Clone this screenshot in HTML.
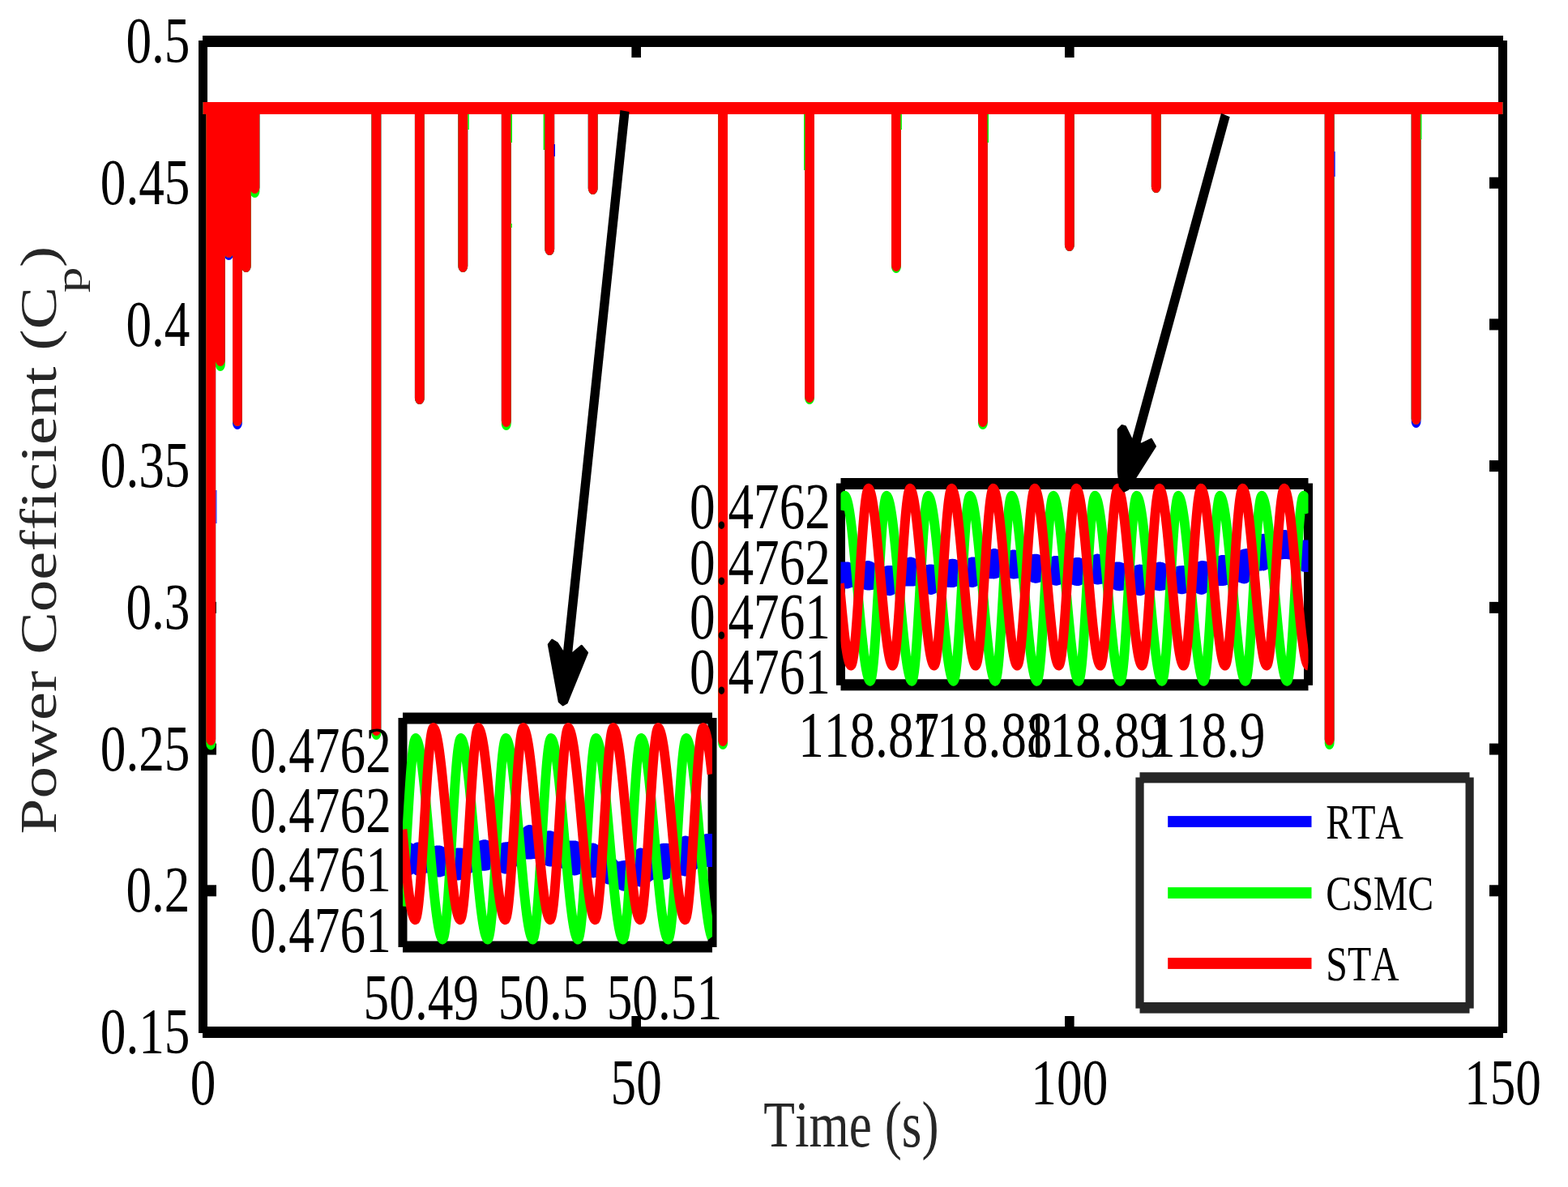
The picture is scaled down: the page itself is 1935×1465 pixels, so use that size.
<!DOCTYPE html>
<html><head><meta charset="utf-8"><title>Power Coefficient plot</title><style>html,body{margin:0;padding:0;background:#fff;width:1935px;height:1465px;overflow:hidden}</style></head><body>
<svg width="1935" height="1465" viewBox="0 0 1935 1465" style="display:block;font-kerning:none">
<rect width="1935" height="1465" fill="#fff"/>
<rect x="250.00" y="44.00" width="1605.00" height="14.00" fill="#000"/>
<rect x="250.00" y="1267.00" width="1605.00" height="14.00" fill="#000"/>
<rect x="245.00" y="50.00" width="11.00" height="1225.00" fill="#000"/>
<rect x="1849.00" y="50.00" width="11.00" height="1225.00" fill="#000"/>
<rect x="256.00" y="218.71" width="11.00" height="14.00" fill="#000"/>
<rect x="1838.00" y="218.71" width="11.00" height="14.00" fill="#000"/>
<rect x="256.00" y="393.43" width="11.00" height="14.00" fill="#000"/>
<rect x="1838.00" y="393.43" width="11.00" height="14.00" fill="#000"/>
<rect x="1838.00" y="568.14" width="11.00" height="14.00" fill="#000"/>
<rect x="256.00" y="742.86" width="11.00" height="14.00" fill="#000"/>
<rect x="1838.00" y="742.86" width="11.00" height="14.00" fill="#000"/>
<rect x="256.00" y="917.57" width="11.00" height="14.00" fill="#000"/>
<rect x="1838.00" y="917.57" width="11.00" height="14.00" fill="#000"/>
<rect x="256.00" y="1092.29" width="11.00" height="14.00" fill="#000"/>
<rect x="1838.00" y="1092.29" width="11.00" height="14.00" fill="#000"/>
<rect x="779.37" y="58.00" width="11.60" height="13.00" fill="#000"/>
<rect x="779.37" y="1254.00" width="11.60" height="13.00" fill="#000"/>
<rect x="1314.03" y="58.00" width="11.60" height="13.00" fill="#000"/>
<rect x="1314.03" y="1254.00" width="11.60" height="13.00" fill="#000"/>
<clipPath id="cmain" clipPathUnits="userSpaceOnUse"><rect x="250" y="31.50" width="1605" height="976.38"/></clipPath>
<g transform="scale(1 1.2700)" fill="none" stroke-linejoin="round" stroke-linecap="butt" stroke-width="11.80" clip-path="url(#cmain)">
<polyline stroke="#0000ff" points="250.50,105.12 260.23,105.12 260.23,718.51 260.23,105.12 271.89,105.12 271.89,350.01 271.89,105.12 282.26,105.12 282.26,246.86 282.26,105.12 292.95,105.12 292.95,411.42 292.95,105.12 303.75,105.12 303.75,258.67 303.75,105.12 314.45,105.12 314.45,182.29 314.45,105.12 464.37,105.12 464.37,709.06 464.37,105.12 517.83,105.12 517.83,387.01 517.83,105.12 571.30,105.12 571.30,258.67 571.30,105.12 624.77,105.12 624.77,409.06 624.77,105.12 678.23,105.12 678.23,242.13 678.23,105.12 731.70,105.12 731.70,183.08 731.70,105.12 892.10,105.12 892.10,719.30 892.10,105.12 999.03,105.12 999.03,385.44 999.03,105.12 1105.97,105.12 1105.97,257.88 1105.97,105.12 1212.90,105.12 1212.90,409.06 1212.90,105.12 1319.83,105.12 1319.83,238.19 1319.83,105.12 1426.77,105.12 1426.77,181.50 1426.77,105.12 1640.63,105.12 1640.63,718.51 1640.63,105.12 1747.57,105.12 1747.57,409.85 1747.57,105.12 1854.50,105.12"/>
<polyline stroke="#00ff00" points="250.50,105.12 260.23,105.12 260.23,722.84 260.23,105.12 271.89,105.12 271.89,354.73 271.89,105.12 282.26,105.12 282.26,244.49 282.26,105.12 292.95,105.12 292.95,408.27 292.95,105.12 303.75,105.12 303.75,258.67 303.75,105.12 314.45,105.12 314.45,186.23 314.45,105.12 464.37,105.12 464.37,713.00 464.37,105.12 517.83,105.12 517.83,387.01 517.83,105.12 571.30,105.12 571.30,258.67 571.30,105.12 624.77,105.12 624.77,412.21 624.77,105.12 678.23,105.12 678.23,242.13 678.23,105.12 731.70,105.12 731.70,183.08 731.70,105.12 892.10,105.12 892.10,722.45 892.10,105.12 999.03,105.12 999.03,387.01 999.03,105.12 1105.97,105.12 1105.97,259.45 1105.97,105.12 1212.90,105.12 1212.90,411.42 1212.90,105.12 1319.83,105.12 1319.83,238.19 1319.83,105.12 1426.77,105.12 1426.77,181.50 1426.77,105.12 1640.63,105.12 1640.63,722.45 1640.63,105.12 1747.57,105.12 1747.57,406.70 1747.57,105.12 1854.50,105.12"/>
<polyline stroke="#ff0000" points="250.50,105.12 260.23,105.12 260.23,718.51 260.23,105.12 271.89,105.12 271.89,350.01 271.89,105.12 282.26,105.12 282.26,244.49 282.26,105.12 292.95,105.12 292.95,408.27 292.95,105.12 303.75,105.12 303.75,258.67 303.75,105.12 314.45,105.12 314.45,182.29 314.45,105.12 464.37,105.12 464.37,709.06 464.37,105.12 517.83,105.12 517.83,387.01 517.83,105.12 571.30,105.12 571.30,258.67 571.30,105.12 624.77,105.12 624.77,409.06 624.77,105.12 678.23,105.12 678.23,242.13 678.23,105.12 731.70,105.12 731.70,183.08 731.70,105.12 892.10,105.12 892.10,719.30 892.10,105.12 999.03,105.12 999.03,385.44 999.03,105.12 1105.97,105.12 1105.97,257.88 1105.97,105.12 1212.90,105.12 1212.90,409.06 1212.90,105.12 1319.83,105.12 1319.83,238.19 1319.83,105.12 1426.77,105.12 1426.77,181.50 1426.77,105.12 1640.63,105.12 1640.63,718.51 1640.63,105.12 1747.57,105.12 1747.57,406.70 1747.57,105.12 1854.50,105.12"/>
</g>
<rect x="577.30" y="141.00" width="1.50" height="19.00" fill="#00ff00"/>
<rect x="630.60" y="141.00" width="1.40" height="35.00" fill="#00ff00"/>
<rect x="630.60" y="276.00" width="1.20" height="5.00" fill="#00ff00"/>
<rect x="670.60" y="141.00" width="1.40" height="44.00" fill="#00ff00"/>
<rect x="683.60" y="178.00" width="1.40" height="15.00" fill="#0000ff"/>
<rect x="992.00" y="141.00" width="1.40" height="69.00" fill="#00ff00"/>
<rect x="1111.40" y="141.00" width="1.50" height="19.00" fill="#00ff00"/>
<rect x="1218.60" y="141.00" width="1.40" height="35.00" fill="#00ff00"/>
<rect x="1646.40" y="187.00" width="1.20" height="31.00" fill="#0000ff"/>
<rect x="1752.90" y="141.00" width="1.50" height="31.00" fill="#00ff00"/>
<rect x="266.40" y="605.00" width="1.00" height="41.00" fill="#0000ff"/>
<rect x="491.50" y="879.50" width="393.00" height="296.00" fill="#fff"/>
<clipPath id="ci1" clipPathUnits="userSpaceOnUse"><rect x="497.00" y="690.16" width="382.00" height="237.80"/></clipPath>
<rect x="497.00" y="879.50" width="382.00" height="14.00" fill="#000"/>
<rect x="497.00" y="1161.50" width="382.00" height="14.00" fill="#000"/>
<rect x="491.50" y="886.00" width="11.00" height="283.00" fill="#000"/>
<rect x="873.50" y="886.00" width="11.00" height="283.00" fill="#000"/>
<g transform="scale(1 1.2700)" fill="none" stroke-linejoin="round" stroke-linecap="butt" stroke-width="11.80" clip-path="url(#ci1)">
<polyline stroke="#0000ff" points="487.00,824.33 487.75,844.97 488.50,824.33 489.25,844.97 490.00,824.33 490.75,844.97 491.50,824.33 492.25,844.97 493.00,824.33 493.75,844.97 494.50,824.33 495.25,844.97 496.00,824.33 496.75,844.97 497.50,824.33 498.25,844.97 499.00,824.33 499.75,844.97 500.50,824.33 501.25,844.97 502.00,824.33 502.75,844.97 503.50,824.33 504.25,844.97 505.00,824.33 505.75,844.79 506.50,824.97 507.25,843.64 508.00,826.39 508.75,842.28 509.50,827.40 510.25,841.84 511.00,827.17 511.75,842.68 512.50,825.90 513.25,844.11 514.00,824.63 514.75,844.95 515.50,824.35 516.25,844.87 517.00,824.61 517.75,844.62 518.50,825.08 519.25,844.25 520.00,825.72 520.75,843.80 521.50,826.47 522.25,843.34 523.00,827.23 523.75,842.93 524.50,827.95 525.25,842.65 526.00,828.54 526.75,842.54 527.50,828.95 528.25,842.63 529.00,829.17 529.75,842.93 530.50,829.18 531.25,843.40 532.00,829.02 532.75,844.01 533.50,828.72 534.25,844.68 535.00,828.36 535.75,845.34 536.50,827.99 537.25,845.92 538.00,827.69 538.75,846.33 539.50,827.51 540.25,846.53 541.00,827.47 541.75,846.53 542.50,827.60 543.25,846.39 544.00,827.98 544.75,846.10 545.50,828.58 546.25,845.73 547.00,829.32 547.75,845.34 548.50,830.09 549.25,845.01 550.00,830.81 550.75,844.82 551.50,831.38 552.25,844.83 553.00,831.76 553.75,845.07 554.50,831.92 555.25,845.54 556.00,831.84 556.75,846.19 557.50,831.58 558.25,846.97 559.00,831.19 559.75,847.79 560.50,830.75 561.25,848.56 562.00,830.33 562.75,849.17 563.50,830.02 564.25,849.57 565.00,829.85 565.75,849.68 566.50,829.86 567.25,849.49 568.00,829.93 568.75,849.07 569.50,830.01 570.25,848.45 571.00,830.11 571.75,847.68 572.50,830.19 573.25,846.79 574.00,830.24 574.75,845.83 575.50,830.23 576.25,844.86 577.00,830.13 577.75,843.91 578.50,829.91 579.25,843.04 580.00,829.55 580.75,842.26 581.50,829.07 582.25,841.61 583.00,828.44 583.75,841.10 584.50,827.70 585.25,840.72 586.00,826.87 586.75,840.47 587.50,825.97 588.25,840.33 589.00,825.07 589.75,840.28 590.50,824.19 591.25,840.27 592.00,823.39 592.75,840.30 593.50,822.73 594.25,840.33 595.00,822.23 595.75,840.34 596.50,821.95 597.25,840.33 598.00,821.88 598.75,840.30 599.50,822.03 600.25,840.15 601.00,822.40 601.75,839.88 602.50,822.96 603.25,839.53 604.00,823.64 604.75,839.16 605.50,824.37 606.25,838.83 607.00,825.06 607.75,838.61 608.50,825.66 609.25,838.55 610.00,826.09 610.75,838.68 611.50,826.33 612.25,839.02 613.00,826.36 613.75,839.54 614.50,826.21 615.25,840.20 616.00,825.92 616.75,840.95 617.50,825.53 618.25,841.71 619.00,825.13 619.75,842.40 620.50,824.76 621.25,842.94 622.00,824.48 622.75,843.29 623.50,824.34 624.25,843.40 625.00,824.27 625.75,843.20 626.50,824.12 627.25,842.63 628.00,823.91 628.75,841.74 629.50,823.62 630.25,840.61 631.00,823.25 631.75,839.30 632.50,822.76 633.25,837.89 634.00,822.12 634.75,836.46 635.50,821.32 636.25,835.07 637.00,820.34 637.75,833.78 638.50,819.17 639.25,832.64 640.00,817.85 640.75,831.67 641.50,816.39 642.25,830.89 643.00,814.84 643.75,830.28 644.50,813.28 645.25,829.83 646.00,811.77 646.75,829.51 647.50,810.39 648.25,829.30 649.00,809.21 649.75,829.17 650.50,808.30 651.25,829.12 652.00,807.73 652.75,829.12 653.50,807.55 654.25,829.15 655.00,807.75 655.75,829.09 656.50,808.26 657.25,828.96 658.00,809.02 658.75,828.81 659.50,809.95 660.25,828.69 661.00,810.94 661.75,828.67 662.50,811.90 663.25,828.81 664.00,812.75 664.75,829.16 665.50,813.43 666.25,829.73 667.00,813.89 667.75,830.50 668.50,814.13 669.25,831.45 670.00,814.17 670.75,832.51 671.50,814.05 672.25,833.58 673.00,813.85 673.75,834.58 674.50,813.61 675.25,835.40 676.00,813.40 676.75,835.97 677.50,813.26 678.25,836.22 679.00,813.25 679.75,836.20 680.50,813.52 681.25,836.15 682.00,814.05 682.75,836.08 683.50,814.79 684.25,836.02 685.00,815.69 685.75,835.98 686.50,816.70 687.25,836.01 688.00,817.76 688.75,836.13 689.50,818.80 690.25,836.38 691.00,819.77 691.75,836.78 692.50,820.64 693.25,837.34 694.00,821.36 694.75,838.05 695.50,821.93 696.25,838.90 697.00,822.34 697.75,839.84 698.50,822.61 699.25,840.85 700.00,822.75 700.75,841.86 701.50,822.81 702.25,842.82 703.00,822.80 703.75,843.66 704.50,822.78 705.25,844.33 706.00,822.75 706.75,844.78 707.50,822.74 708.25,844.96 709.00,822.76 709.75,844.91 710.50,822.99 711.25,844.67 712.00,823.48 712.75,844.29 713.50,824.16 714.25,843.84 715.00,824.94 715.75,843.40 716.50,825.72 717.25,843.05 718.00,826.40 718.75,842.87 719.50,826.90 720.25,842.92 721.00,827.18 721.75,843.21 722.50,827.21 723.25,843.72 724.00,827.02 724.75,844.41 725.50,826.67 726.25,845.18 727.00,826.23 727.75,845.95 728.50,825.80 729.25,846.60 730.00,825.44 730.75,847.06 731.50,825.23 732.25,847.25 733.00,825.29 733.75,847.07 734.50,826.05 735.25,846.79 736.00,827.39 736.75,846.50 737.50,829.08 738.25,846.34 739.00,830.87 739.75,846.45 740.50,832.52 741.25,846.95 742.00,833.85 742.75,847.86 743.50,834.78 744.25,849.11 745.00,835.31 745.75,850.54 746.50,835.54 747.25,851.91 748.00,835.62 748.75,852.96 749.50,835.69 750.25,853.47 751.00,835.82 751.75,853.45 752.50,836.16 753.25,853.29 754.00,837.09 754.75,853.04 755.50,838.42 756.25,852.83 757.00,839.88 757.75,852.85 758.50,841.22 759.25,853.23 760.00,842.24 760.75,854.05 761.50,842.84 762.25,855.25 763.00,843.02 763.75,856.68 764.50,842.91 765.25,858.11 766.00,842.66 766.75,859.26 767.50,842.44 768.25,859.92 769.00,842.36 769.75,860.08 770.50,842.10 771.25,859.85 772.00,841.90 772.75,859.17 773.50,841.72 774.25,858.19 775.00,841.47 775.75,857.09 776.50,841.04 777.25,856.04 778.00,840.34 778.75,855.18 779.50,839.33 780.25,854.60 781.00,838.00 781.75,854.34 782.50,836.43 783.25,854.38 784.00,834.74 784.75,854.65 785.50,833.08 786.25,855.04 787.00,831.64 787.75,855.46 788.50,830.57 789.25,855.83 790.00,829.99 790.75,855.93 791.50,830.09 792.25,855.63 793.00,830.26 793.75,855.11 794.50,830.48 795.25,854.41 796.00,830.74 796.75,853.59 797.50,830.99 798.25,852.70 799.00,831.19 799.75,851.79 800.50,831.30 801.25,850.94 802.00,831.28 802.75,850.18 803.50,831.12 804.25,849.55 805.00,830.80 805.75,849.08 806.50,830.31 807.25,848.77 808.00,829.69 808.75,848.61 809.50,828.97 810.25,848.58 811.00,828.19 811.75,848.65 812.50,827.41 813.25,848.77 814.00,826.69 814.75,848.91 815.50,826.09 816.25,849.02 817.00,825.66 817.75,849.08 818.50,825.44 819.25,849.07 820.00,825.40 820.75,849.05 821.50,825.37 822.25,848.77 823.00,825.43 823.75,848.25 824.50,825.54 825.25,847.56 826.00,825.67 826.75,846.76 827.50,825.75 828.25,845.96 829.00,825.71 829.75,845.22 830.50,825.52 831.25,844.61 832.00,825.13 832.75,844.18 833.50,824.54 834.25,843.96 835.00,823.75 835.75,843.94 836.50,822.82 837.25,844.08 838.00,821.80 838.75,844.36 839.50,820.77 840.25,844.70 841.00,819.81 841.75,845.05 842.50,819.01 843.25,845.36 844.00,818.43 844.75,845.58 845.50,818.12 846.25,845.59 847.00,818.30 847.75,845.18 848.50,818.60 849.25,844.53 850.00,818.96 850.75,843.69 851.50,819.37 852.25,842.71 853.00,819.76 853.75,841.67 854.50,820.10 855.25,840.62 856.00,820.34 856.75,839.64 857.50,820.45 858.25,838.76 859.00,820.38 859.75,838.04 860.50,820.15 861.25,837.49 862.00,819.74 862.75,837.11 863.50,819.19 864.25,836.90 865.00,818.55 865.75,836.80 866.50,817.88 867.25,836.79 868.00,817.23 868.75,836.82 869.50,816.67 870.25,836.84 871.00,816.27 871.75,836.81 872.50,816.08 873.25,836.70 874.00,816.14 874.75,836.62 875.50,816.14 876.25,836.62 877.00,816.14 877.75,836.62 878.50,816.14 879.25,836.62 880.00,816.14 880.75,836.62 881.50,816.14 882.25,836.62 883.00,816.14 883.75,836.62 884.50,816.14 885.25,836.62 886.00,816.14 886.75,836.62 887.50,816.14 888.25,836.62 889.00,816.14"/>
<polyline stroke="#00ff00" points="496.50,880.60 497.00,875.42 497.50,869.95 498.00,864.19 498.50,858.20 499.00,851.99 499.50,845.60 500.00,839.05 500.50,832.39 501.00,825.64 501.50,818.84 502.00,812.02 502.50,805.22 503.00,798.46 503.50,791.79 504.00,785.24 504.50,778.83 505.00,772.61 505.50,766.59 506.00,760.82 506.50,755.32 507.00,750.12 507.50,745.24 508.00,740.70 508.50,736.54 509.00,732.77 509.50,729.41 510.00,726.48 510.50,723.99 511.00,721.95 511.50,720.38 512.00,719.28 512.50,718.65 513.00,718.50 513.50,718.65 514.00,719.02 514.50,719.59 515.00,720.38 515.50,721.38 516.00,722.58 516.50,723.99 517.00,725.60 517.50,727.41 518.00,729.41 518.50,731.61 519.00,733.99 519.50,736.54 520.00,739.28 520.50,742.18 521.00,745.24 521.50,748.45 522.00,751.82 522.50,755.32 523.00,758.96 523.50,762.72 524.00,766.59 524.50,770.58 525.00,774.66 525.50,778.83 526.00,783.08 526.50,787.41 527.00,791.79 527.50,796.23 528.00,800.71 528.50,805.22 529.00,809.75 529.50,814.29 530.00,818.84 530.50,823.38 531.00,827.90 531.50,832.39 532.00,836.84 532.50,841.25 533.00,845.60 533.50,849.88 534.00,854.08 534.50,858.20 535.00,862.22 535.50,866.14 536.00,869.95 536.50,873.63 537.00,877.18 537.50,880.60 538.00,883.87 538.50,887.00 539.00,889.96 539.50,892.75 540.00,895.38 540.50,897.82 541.00,900.09 541.50,902.17 542.00,904.05 542.50,905.74 543.00,907.22 543.50,908.51 544.00,909.58 544.50,910.45 545.00,911.11 545.50,911.55 546.00,911.78 546.50,911.77 547.00,911.33 547.50,910.41 548.00,909.02 548.50,907.15 549.00,904.83 549.50,902.07 550.00,898.87 550.50,895.25 551.00,891.24 551.50,886.84 552.00,882.09 552.50,877.01 553.00,871.62 553.50,865.95 554.00,860.02 554.50,853.87 555.00,847.53 555.50,841.03 556.00,834.40 556.50,827.67 557.00,820.88 557.50,814.07 558.00,807.25 558.50,800.48 559.00,793.78 559.50,787.19 560.00,780.73 560.50,774.45 561.00,768.37 561.50,762.52 562.00,756.94 562.50,751.64 563.00,746.66 563.50,742.03 564.00,737.75 564.50,733.86 565.00,730.38 565.50,727.32 566.00,724.69 566.50,722.52 567.00,720.80 567.50,719.56 568.00,718.79 568.50,718.50 569.00,718.59 569.50,718.88 570.00,719.40 570.50,720.12 571.00,721.06 571.50,722.20 572.00,723.55 572.50,725.10 573.00,726.85 573.50,728.79 574.00,730.93 574.50,733.25 575.00,735.76 575.50,738.44 576.00,741.29 576.50,744.30 577.00,747.47 577.50,750.79 578.00,754.25 578.50,757.85 579.00,761.57 579.50,765.42 580.00,769.37 580.50,773.42 581.00,777.57 581.50,781.80 582.00,786.10 582.50,790.47 583.00,794.89 583.50,799.36 584.00,803.86 584.50,808.39 585.00,812.93 585.50,817.48 586.00,822.02 586.50,826.54 587.00,831.05 587.50,835.51 588.00,839.93 588.50,844.30 589.00,848.60 589.50,852.83 590.00,856.97 590.50,861.03 591.00,864.98 591.50,868.82 592.00,872.54 592.50,876.13 593.00,879.59 593.50,882.91 594.00,886.08 594.50,889.09 595.00,891.93 595.50,894.61 596.00,897.11 596.50,899.43 597.00,901.56 597.50,903.50 598.00,905.25 598.50,906.80 599.00,908.14 599.50,909.28 600.00,910.21 600.50,910.93 601.00,911.44 601.50,911.73 602.00,911.81 602.50,911.51 603.00,910.74 603.50,909.48 604.00,907.76 604.50,905.58 605.00,902.94 605.50,899.87 606.00,896.38 606.50,892.48 607.00,888.20 607.50,883.55 608.00,878.57 608.50,873.27 609.00,867.68 609.50,861.82 610.00,855.74 610.50,849.45 611.00,843.00 611.50,836.40 612.00,829.70 612.50,822.92 613.00,816.11 613.50,809.30 614.00,802.51 614.50,795.78 615.00,789.15 615.50,782.65 616.00,776.32 616.50,770.17 617.00,764.25 617.50,758.59 618.00,753.20 618.50,748.12 619.00,743.38 619.50,738.99 620.00,734.99 620.50,731.38 621.00,728.19 621.50,725.43 622.00,723.12 622.50,721.27 623.00,719.88 623.50,718.97 624.00,718.54 624.50,718.54 625.00,718.77 625.50,719.22 626.00,719.88 626.50,720.75 627.00,721.83 627.50,723.12 628.00,724.61 628.50,726.30 629.00,728.19 629.50,730.27 630.00,732.54 630.50,734.99 631.00,737.62 631.50,740.42 632.00,743.38 632.50,746.50 633.00,749.78 633.50,753.20 634.00,756.76 634.50,760.44 635.00,764.25 635.50,768.17 636.00,772.20 636.50,776.32 637.00,780.52 637.50,784.80 638.00,789.15 638.50,793.56 639.00,798.01 639.50,802.51 640.00,807.03 640.50,811.57 641.00,816.11 641.50,820.66 642.00,825.19 642.50,829.70 643.00,834.18 643.50,838.61 644.00,843.00 644.50,847.32 645.00,851.57 645.50,855.74 646.00,859.82 646.50,863.80 647.00,867.68 647.50,871.43 648.00,875.07 648.50,878.57 649.00,881.93 649.50,885.14 650.00,888.20 650.50,891.10 651.00,893.82 651.50,896.38 652.00,898.75 652.50,900.94 653.00,902.94 653.50,904.75 654.00,906.35 654.50,907.76 655.00,908.96 655.50,909.95 656.00,910.74 656.50,911.31 657.00,911.67 657.50,911.81 658.00,911.65 658.50,911.02 659.00,909.91 659.50,908.33 660.00,906.28 660.50,903.78 661.00,900.84 661.50,897.47 662.00,893.69 662.50,889.52 663.00,884.98 663.50,880.10 664.00,874.89 664.50,869.38 665.00,863.61 665.50,857.59 666.00,851.36 666.50,844.95 667.00,838.39 667.50,831.72 668.00,824.96 668.50,818.16 669.00,811.34 669.50,804.54 670.00,797.79 670.50,791.13 671.00,784.59 671.50,778.20 672.00,771.99 672.50,766.00 673.00,760.26 673.50,754.78 674.00,749.61 674.50,744.77 675.00,740.27 675.50,736.15 676.00,732.42 676.50,729.10 677.00,726.21 677.50,723.77 678.00,721.77 678.50,720.25 679.00,719.19 679.50,718.62 680.00,718.51 680.50,718.68 681.00,719.06 681.50,719.66 682.00,720.47 682.50,721.49 683.00,722.71 683.50,724.14 684.00,725.77 684.50,727.60 685.00,729.63 685.50,731.84 686.00,734.23 686.50,736.81 687.00,739.56 687.50,742.47 688.00,745.55 688.50,748.78 689.00,752.16 689.50,755.68 690.00,759.33 690.50,763.10 691.00,766.99 691.50,770.98 692.00,775.07 692.50,779.25 693.00,783.51 693.50,787.84 694.00,792.23 694.50,796.67 695.00,801.16 695.50,805.67 696.00,810.20 696.50,814.75 697.00,819.29 697.50,823.83 698.00,828.35 698.50,832.84 699.00,837.29 699.50,841.69 700.00,846.03 700.50,850.30 701.00,854.50 701.50,858.61 702.00,862.62 702.50,866.53 703.00,870.32 703.50,873.99 704.00,877.53 704.50,880.94 705.00,884.19 705.50,887.30 706.00,890.24 706.50,893.02 707.00,895.63 707.50,898.06 708.00,900.31 708.50,902.36 709.00,904.23 709.50,905.89 710.00,907.36 710.50,908.62 711.00,909.68 711.50,910.52 712.00,911.16 712.50,911.58 713.00,911.79 713.50,911.75 714.00,911.26 714.50,910.29 715.00,908.85 715.50,906.94 716.00,904.58 716.50,901.77 717.00,898.52 717.50,894.87 718.00,890.81 718.50,886.38 719.00,881.60 719.50,876.48 720.00,871.06 720.50,865.36 721.00,859.42 721.50,853.25 722.00,846.89 722.50,840.37 723.00,833.73 723.50,827.00 724.00,820.20 724.50,813.38 725.00,806.57 725.50,799.81 726.00,793.12 726.50,786.54 727.00,780.10 727.50,773.83 728.00,767.78 728.50,761.95 729.00,756.40 729.50,751.13 730.00,746.19 730.50,741.58 731.00,737.35 731.50,733.50 732.00,730.05 732.50,727.03 733.00,724.45 733.50,722.32 734.00,720.66 734.50,719.46 735.00,718.74 735.50,718.50 736.00,718.61 736.50,718.93 737.00,719.46 737.50,720.20 738.00,721.16 738.50,722.32 739.00,723.69 739.50,725.26 740.00,727.03 740.50,729.00 741.00,731.15 741.50,733.50 742.00,736.02 742.50,738.72 743.00,741.58 743.50,744.61 744.00,747.80 744.50,751.13 745.00,754.61 745.50,758.22 746.00,761.95 746.50,765.81 747.00,769.77 747.50,773.83 748.00,777.99 748.50,782.23 749.00,786.54 749.50,790.91 750.00,795.34 750.50,799.81 751.00,804.31 751.50,808.84 752.00,813.38 752.50,817.93 753.00,822.47 753.50,827.00 754.00,831.49 754.50,835.96 755.00,840.37 755.50,844.73 756.00,849.03 756.50,853.25 757.00,857.38 757.50,861.42 758.00,865.36 758.50,869.19 759.00,872.90 759.50,876.48 760.00,879.93 760.50,883.23 761.00,886.38 761.50,889.38 762.00,892.21 762.50,894.87 763.00,897.35 763.50,899.65 764.00,901.77 764.50,903.69 765.00,905.41 765.50,906.94 766.00,908.27 766.50,909.38 767.00,910.29 767.50,910.99 768.00,911.48 768.50,911.75 769.00,911.80 769.50,911.46 770.00,910.63 770.50,909.33 771.00,907.56 771.50,905.33 772.00,902.65 772.50,899.54 773.00,896.01 773.50,892.07 774.00,887.75 774.50,883.07 775.00,878.05 775.50,872.72 776.00,867.10 776.50,861.23 777.00,855.12 777.50,848.81 778.00,842.34 778.50,835.73 779.00,829.02 779.50,822.24 780.00,815.43 780.50,808.61 781.00,801.83 781.50,795.11 782.00,788.50 782.50,782.01 783.00,775.69 783.50,769.57 784.00,763.67 784.50,758.03 785.00,752.68 785.50,747.63 786.00,742.93 786.50,738.58 787.00,734.61 787.50,731.04 788.00,727.89 788.50,725.18 789.00,722.91 789.50,721.11 790.00,719.77 790.50,718.90 791.00,718.52 791.50,718.55 792.00,718.81 792.50,719.28 793.00,719.96 793.50,720.85 794.00,721.95 794.50,723.26 795.00,724.77 795.50,726.48 796.00,728.39 796.50,730.49 797.00,732.77 797.50,735.24 798.00,737.89 798.50,740.70 799.00,743.69 799.50,746.83 800.00,750.12 800.50,753.55 801.00,757.12 801.50,760.82 802.00,764.64 802.50,768.57 803.00,772.61 803.50,776.73 804.00,780.95 804.50,785.24 805.00,789.59 805.50,794.00 806.00,798.46 806.50,802.96 807.00,807.48 807.50,812.02 808.00,816.57 808.50,821.11 809.00,825.64 809.50,830.15 810.00,834.62 810.50,839.05 811.00,843.43 811.50,847.75 812.00,851.99 812.50,856.15 813.00,860.22 813.50,864.19 814.00,868.06 814.50,871.80 815.00,875.42 815.50,878.91 816.00,882.26 816.50,885.45 817.00,888.50 817.50,891.38 818.00,894.09 818.50,896.62 819.00,898.98 819.50,901.15 820.00,903.13 820.50,904.92 821.00,906.50 821.50,907.89 822.00,909.07 822.50,910.04 823.00,910.80 823.50,911.35 824.00,911.69 824.50,911.82 825.00,911.61 825.50,910.93 826.00,909.77 826.50,908.14 827.00,906.05 827.50,903.50 828.00,900.52 828.50,897.11 829.00,893.29 829.50,889.09 830.00,884.51 830.50,879.59 831.00,874.35 831.50,868.82 832.00,863.01 832.50,856.97 833.00,850.72 833.50,844.30 834.00,837.73 834.50,831.05 835.00,824.28 835.50,817.48 836.00,810.66 836.50,803.86 837.00,797.12 837.50,790.47 838.00,783.94 838.50,777.57 839.00,771.38 839.50,765.42 840.00,759.70 840.50,754.25 841.00,749.11 841.50,744.30 842.00,739.84 842.50,735.76 843.00,732.07 843.50,728.79 844.00,725.95 844.50,723.55 845.00,721.60 845.50,720.12 846.00,719.11 846.50,718.59 847.00,718.52 847.50,718.71 848.00,719.11 848.50,719.73 849.00,720.56 849.50,721.60 850.00,722.85 850.50,724.30 851.00,725.95 851.50,727.80 852.00,729.84 852.50,732.07 853.00,734.48 853.50,737.08 854.00,739.84 854.50,742.77 855.00,745.87 855.50,749.11 856.00,752.51 856.50,756.04 857.00,759.70 857.50,763.48 858.00,767.38 858.50,771.38 859.00,775.49 859.50,779.67 860.00,783.94 860.50,788.28 861.00,792.67 861.50,797.12 862.00,801.61 862.50,806.12 863.00,810.66 863.50,815.20 864.00,819.75 864.50,824.28 865.00,828.80 865.50,833.28 866.00,837.73 866.50,842.12 867.00,846.46 867.50,850.72 868.00,854.91 868.50,859.01 869.00,863.01 869.50,866.91 870.00,870.69 870.50,874.35 871.00,877.88 871.50,881.27 872.00,884.51 872.50,887.60 873.00,890.53 873.50,893.29 874.00,895.88 874.50,898.29 875.00,900.52 875.50,902.56 876.00,904.40 876.50,906.05 877.00,907.50 877.50,908.74 878.00,909.77 878.50,910.60"/>
<polyline stroke="#ff0000" points="496.50,806.17 497.00,810.50 497.50,814.81 498.00,819.10 498.50,823.34 499.00,827.52 499.50,831.65 500.00,835.71 500.50,839.70 501.00,843.59 501.50,847.39 502.00,851.08 502.50,854.66 503.00,858.13 503.50,861.46 504.00,864.66 504.50,867.71 505.00,870.62 505.50,873.37 506.00,875.95 506.50,878.37 507.00,880.62 507.50,882.69 508.00,884.57 508.50,886.27 509.00,887.78 509.50,889.09 510.00,890.21 510.50,891.12 511.00,891.84 511.50,892.35 512.00,892.66 512.50,892.76 513.00,892.53 513.50,891.84 514.00,890.69 514.50,889.09 515.00,887.05 515.50,884.57 516.00,881.68 516.50,878.37 517.00,874.68 517.50,870.62 518.00,866.20 518.50,861.46 519.00,856.41 519.50,851.08 520.00,845.50 520.50,839.70 521.00,833.69 521.50,827.52 522.00,821.22 522.50,814.81 523.00,808.34 523.50,801.82 524.00,795.29 524.50,788.79 525.00,782.35 525.50,776.01 526.00,769.78 526.50,763.71 527.00,757.82 527.50,752.14 528.00,746.71 528.50,741.55 529.00,736.68 529.50,732.13 530.00,727.93 530.50,724.08 531.00,720.62 531.50,717.56 532.00,714.91 532.50,712.70 533.00,710.92 533.50,709.59 534.00,708.71 534.50,708.30 535.00,708.30 535.50,708.52 536.00,708.96 536.50,709.59 537.00,710.43 537.50,711.46 538.00,712.70 538.50,714.13 539.00,715.75 539.50,717.56 540.00,719.56 540.50,721.73 541.00,724.08 541.50,726.60 542.00,729.29 542.50,732.13 543.00,735.13 543.50,738.27 544.00,741.55 544.50,744.96 545.00,748.49 545.50,752.14 546.00,755.90 546.50,759.76 547.00,763.71 547.50,767.74 548.00,771.84 548.50,776.01 549.00,780.23 549.50,784.49 550.00,788.79 550.50,793.12 551.00,797.47 551.50,801.82 552.00,806.17 552.50,810.50 553.00,814.81 553.50,819.10 554.00,823.34 554.50,827.52 555.00,831.65 555.50,835.71 556.00,839.70 556.50,843.59 557.00,847.39 557.50,851.08 558.00,854.66 558.50,858.13 559.00,861.46 559.50,864.66 560.00,867.71 560.50,870.62 561.00,873.37 561.50,875.95 562.00,878.37 562.50,880.62 563.00,882.69 563.50,884.57 564.00,886.27 564.50,887.78 565.00,889.09 565.50,890.21 566.00,891.12 566.50,891.84 567.00,892.35 567.50,892.66 568.00,892.76 568.50,892.53 569.00,891.84 569.50,890.69 570.00,889.09 570.50,887.05 571.00,884.57 571.50,881.68 572.00,878.37 572.50,874.68 573.00,870.62 573.50,866.20 574.00,861.46 574.50,856.41 575.00,851.08 575.50,845.50 576.00,839.70 576.50,833.69 577.00,827.52 577.50,821.22 578.00,814.81 578.50,808.34 579.00,801.82 579.50,795.29 580.00,788.79 580.50,782.35 581.00,776.01 581.50,769.78 582.00,763.71 582.50,757.82 583.00,752.14 583.50,746.71 584.00,741.55 584.50,736.68 585.00,732.13 585.50,727.93 586.00,724.08 586.50,720.62 587.00,717.56 587.50,714.91 588.00,712.70 588.50,710.92 589.00,709.59 589.50,708.71 590.00,708.30 590.50,708.30 591.00,708.52 591.50,708.96 592.00,709.59 592.50,710.43 593.00,711.46 593.50,712.70 594.00,714.13 594.50,715.75 595.00,717.56 595.50,719.56 596.00,721.73 596.50,724.08 597.00,726.60 597.50,729.29 598.00,732.13 598.50,735.13 599.00,738.27 599.50,741.55 600.00,744.96 600.50,748.49 601.00,752.14 601.50,755.90 602.00,759.76 602.50,763.71 603.00,767.74 603.50,771.84 604.00,776.01 604.50,780.23 605.00,784.49 605.50,788.79 606.00,793.12 606.50,797.47 607.00,801.82 607.50,806.17 608.00,810.50 608.50,814.81 609.00,819.10 609.50,823.34 610.00,827.52 610.50,831.65 611.00,835.71 611.50,839.70 612.00,843.59 612.50,847.39 613.00,851.08 613.50,854.66 614.00,858.13 614.50,861.46 615.00,864.66 615.50,867.71 616.00,870.62 616.50,873.37 617.00,875.95 617.50,878.37 618.00,880.62 618.50,882.69 619.00,884.57 619.50,886.27 620.00,887.78 620.50,889.09 621.00,890.21 621.50,891.12 622.00,891.84 622.50,892.35 623.00,892.66 623.50,892.76 624.00,892.53 624.50,891.84 625.00,890.69 625.50,889.09 626.00,887.05 626.50,884.57 627.00,881.68 627.50,878.37 628.00,874.68 628.50,870.62 629.00,866.20 629.50,861.46 630.00,856.41 630.50,851.08 631.00,845.50 631.50,839.70 632.00,833.69 632.50,827.52 633.00,821.22 633.50,814.81 634.00,808.34 634.50,801.82 635.00,795.29 635.50,788.79 636.00,782.35 636.50,776.01 637.00,769.78 637.50,763.71 638.00,757.82 638.50,752.14 639.00,746.71 639.50,741.55 640.00,736.68 640.50,732.13 641.00,727.93 641.50,724.08 642.00,720.62 642.50,717.56 643.00,714.91 643.50,712.70 644.00,710.92 644.50,709.59 645.00,708.71 645.50,708.30 646.00,708.30 646.50,708.52 647.00,708.96 647.50,709.59 648.00,710.43 648.50,711.46 649.00,712.70 649.50,714.13 650.00,715.75 650.50,717.56 651.00,719.56 651.50,721.73 652.00,724.08 652.50,726.60 653.00,729.29 653.50,732.13 654.00,735.13 654.50,738.27 655.00,741.55 655.50,744.96 656.00,748.49 656.50,752.14 657.00,755.90 657.50,759.76 658.00,763.71 658.50,767.74 659.00,771.84 659.50,776.01 660.00,780.23 660.50,784.49 661.00,788.79 661.50,793.12 662.00,797.47 662.50,801.82 663.00,806.17 663.50,810.50 664.00,814.81 664.50,819.10 665.00,823.34 665.50,827.52 666.00,831.65 666.50,835.71 667.00,839.70 667.50,843.59 668.00,847.39 668.50,851.08 669.00,854.66 669.50,858.13 670.00,861.46 670.50,864.66 671.00,867.71 671.50,870.62 672.00,873.37 672.50,875.95 673.00,878.37 673.50,880.62 674.00,882.69 674.50,884.57 675.00,886.27 675.50,887.78 676.00,889.09 676.50,890.21 677.00,891.12 677.50,891.84 678.00,892.35 678.50,892.66 679.00,892.76 679.50,892.53 680.00,891.84 680.50,890.69 681.00,889.09 681.50,887.05 682.00,884.57 682.50,881.68 683.00,878.37 683.50,874.68 684.00,870.62 684.50,866.20 685.00,861.46 685.50,856.41 686.00,851.08 686.50,845.50 687.00,839.70 687.50,833.69 688.00,827.52 688.50,821.22 689.00,814.81 689.50,808.34 690.00,801.82 690.50,795.29 691.00,788.79 691.50,782.35 692.00,776.01 692.50,769.78 693.00,763.71 693.50,757.82 694.00,752.14 694.50,746.71 695.00,741.55 695.50,736.68 696.00,732.13 696.50,727.93 697.00,724.08 697.50,720.62 698.00,717.56 698.50,714.91 699.00,712.70 699.50,710.92 700.00,709.59 700.50,708.71 701.00,708.30 701.50,708.30 702.00,708.52 702.50,708.96 703.00,709.59 703.50,710.43 704.00,711.46 704.50,712.70 705.00,714.13 705.50,715.75 706.00,717.56 706.50,719.56 707.00,721.73 707.50,724.08 708.00,726.60 708.50,729.29 709.00,732.13 709.50,735.13 710.00,738.27 710.50,741.55 711.00,744.96 711.50,748.49 712.00,752.14 712.50,755.90 713.00,759.76 713.50,763.71 714.00,767.74 714.50,771.84 715.00,776.01 715.50,780.23 716.00,784.49 716.50,788.79 717.00,793.12 717.50,797.47 718.00,801.82 718.50,806.17 719.00,810.50 719.50,814.81 720.00,819.10 720.50,823.34 721.00,827.52 721.50,831.65 722.00,835.71 722.50,839.70 723.00,843.59 723.50,847.39 724.00,851.08 724.50,854.66 725.00,858.13 725.50,861.46 726.00,864.66 726.50,867.71 727.00,870.62 727.50,873.37 728.00,875.95 728.50,878.37 729.00,880.62 729.50,882.69 730.00,884.57 730.50,886.27 731.00,887.78 731.50,889.09 732.00,890.21 732.50,891.12 733.00,891.84 733.50,892.35 734.00,892.66 734.50,892.76 735.00,892.53 735.50,891.84 736.00,890.69 736.50,889.09 737.00,887.05 737.50,884.57 738.00,881.68 738.50,878.37 739.00,874.68 739.50,870.62 740.00,866.20 740.50,861.46 741.00,856.41 741.50,851.08 742.00,845.50 742.50,839.70 743.00,833.69 743.50,827.52 744.00,821.22 744.50,814.81 745.00,808.34 745.50,801.82 746.00,795.29 746.50,788.79 747.00,782.35 747.50,776.01 748.00,769.78 748.50,763.71 749.00,757.82 749.50,752.14 750.00,746.71 750.50,741.55 751.00,736.68 751.50,732.13 752.00,727.93 752.50,724.08 753.00,720.62 753.50,717.56 754.00,714.91 754.50,712.70 755.00,710.92 755.50,709.59 756.00,708.71 756.50,708.30 757.00,708.30 757.50,708.52 758.00,708.96 758.50,709.59 759.00,710.43 759.50,711.46 760.00,712.70 760.50,714.13 761.00,715.75 761.50,717.56 762.00,719.56 762.50,721.73 763.00,724.08 763.50,726.60 764.00,729.29 764.50,732.13 765.00,735.13 765.50,738.27 766.00,741.55 766.50,744.96 767.00,748.49 767.50,752.14 768.00,755.90 768.50,759.76 769.00,763.71 769.50,767.74 770.00,771.84 770.50,776.01 771.00,780.23 771.50,784.49 772.00,788.79 772.50,793.12 773.00,797.47 773.50,801.82 774.00,806.17 774.50,810.50 775.00,814.81 775.50,819.10 776.00,823.34 776.50,827.52 777.00,831.65 777.50,835.71 778.00,839.70 778.50,843.59 779.00,847.39 779.50,851.08 780.00,854.66 780.50,858.13 781.00,861.46 781.50,864.66 782.00,867.71 782.50,870.62 783.00,873.37 783.50,875.95 784.00,878.37 784.50,880.62 785.00,882.69 785.50,884.57 786.00,886.27 786.50,887.78 787.00,889.09 787.50,890.21 788.00,891.12 788.50,891.84 789.00,892.35 789.50,892.66 790.00,892.76 790.50,892.53 791.00,891.84 791.50,890.69 792.00,889.09 792.50,887.05 793.00,884.57 793.50,881.68 794.00,878.37 794.50,874.68 795.00,870.62 795.50,866.20 796.00,861.46 796.50,856.41 797.00,851.08 797.50,845.50 798.00,839.70 798.50,833.69 799.00,827.52 799.50,821.22 800.00,814.81 800.50,808.34 801.00,801.82 801.50,795.29 802.00,788.79 802.50,782.35 803.00,776.01 803.50,769.78 804.00,763.71 804.50,757.82 805.00,752.14 805.50,746.71 806.00,741.55 806.50,736.68 807.00,732.13 807.50,727.93 808.00,724.08 808.50,720.62 809.00,717.56 809.50,714.91 810.00,712.70 810.50,710.92 811.00,709.59 811.50,708.71 812.00,708.30 812.50,708.30 813.00,708.52 813.50,708.96 814.00,709.59 814.50,710.43 815.00,711.46 815.50,712.70 816.00,714.13 816.50,715.75 817.00,717.56 817.50,719.56 818.00,721.73 818.50,724.08 819.00,726.60 819.50,729.29 820.00,732.13 820.50,735.13 821.00,738.27 821.50,741.55 822.00,744.96 822.50,748.49 823.00,752.14 823.50,755.90 824.00,759.76 824.50,763.71 825.00,767.74 825.50,771.84 826.00,776.01 826.50,780.23 827.00,784.49 827.50,788.79 828.00,793.12 828.50,797.47 829.00,801.82 829.50,806.17 830.00,810.50 830.50,814.81 831.00,819.10 831.50,823.34 832.00,827.52 832.50,831.65 833.00,835.71 833.50,839.70 834.00,843.59 834.50,847.39 835.00,851.08 835.50,854.66 836.00,858.13 836.50,861.46 837.00,864.66 837.50,867.71 838.00,870.62 838.50,873.37 839.00,875.95 839.50,878.37 840.00,880.62 840.50,882.69 841.00,884.57 841.50,886.27 842.00,887.78 842.50,889.09 843.00,890.21 843.50,891.12 844.00,891.84 844.50,892.35 845.00,892.66 845.50,892.76 846.00,892.53 846.50,891.84 847.00,890.69 847.50,889.09 848.00,887.05 848.50,884.57 849.00,881.68 849.50,878.37 850.00,874.68 850.50,870.62 851.00,866.20 851.50,861.46 852.00,856.41 852.50,851.08 853.00,845.50 853.50,839.70 854.00,833.69 854.50,827.52 855.00,821.22 855.50,814.81 856.00,808.34 856.50,801.82 857.00,795.29 857.50,788.79 858.00,782.35 858.50,776.01 859.00,769.78 859.50,763.71 860.00,757.82 860.50,752.14 861.00,746.71 861.50,741.55 862.00,736.68 862.50,732.13 863.00,727.93 863.50,724.08 864.00,720.62 864.50,717.56 865.00,714.91 865.50,712.70 866.00,710.92 866.50,709.59 867.00,708.71 867.50,708.30 868.00,708.30 868.50,708.52 869.00,708.96 869.50,709.59 870.00,710.43 870.50,711.46 871.00,712.70 871.50,714.13 872.00,715.75 872.50,717.56 873.00,719.56 873.50,721.73 874.00,724.08 874.50,726.60 875.00,729.29 875.50,732.13 876.00,735.13 876.50,738.27 877.00,741.55 877.50,744.96 878.00,748.49 878.50,752.14"/>
</g>
<rect x="1032.00" y="590.00" width="588.00" height="262.30" fill="#fff"/>
<clipPath id="ci2" clipPathUnits="userSpaceOnUse"><rect x="1037.50" y="462.20" width="577.00" height="211.26"/></clipPath>
<rect x="1037.50" y="590.00" width="577.00" height="14.00" fill="#000"/>
<rect x="1037.50" y="838.30" width="577.00" height="14.00" fill="#000"/>
<rect x="1032.00" y="596.50" width="11.00" height="249.30" fill="#000"/>
<rect x="1609.00" y="596.50" width="11.00" height="249.30" fill="#000"/>
<g transform="scale(1 1.2700)" fill="none" stroke-linejoin="round" stroke-linecap="butt" stroke-width="11.80" clip-path="url(#ci2)">
<polyline stroke="#0000ff" points="1027.50,551.96 1028.25,566.15 1029.00,551.96 1029.75,566.15 1030.50,551.96 1031.25,566.15 1032.00,551.96 1032.75,566.15 1033.50,551.96 1034.25,566.15 1035.00,551.96 1035.75,566.15 1036.50,551.96 1037.25,566.15 1038.00,551.96 1038.75,566.15 1039.50,551.96 1040.25,566.15 1041.00,551.96 1041.75,566.15 1042.50,551.96 1043.25,566.15 1044.00,551.96 1044.75,566.16 1045.50,551.98 1046.25,566.06 1047.00,552.18 1047.75,565.79 1048.50,552.53 1049.25,565.41 1050.00,552.98 1050.75,564.96 1051.50,553.46 1052.25,564.52 1053.00,553.91 1053.75,564.14 1054.50,554.27 1055.25,563.89 1056.00,554.49 1056.75,563.80 1057.50,554.52 1058.25,563.90 1059.00,554.37 1059.75,564.18 1060.50,554.03 1061.25,564.63 1062.00,553.56 1062.75,565.20 1063.50,552.98 1064.25,565.83 1065.00,552.37 1065.75,566.47 1066.50,551.79 1067.25,567.03 1068.00,551.30 1068.75,567.47 1069.50,550.95 1070.25,567.74 1071.00,550.78 1071.75,567.80 1072.50,550.90 1073.25,567.72 1074.00,551.29 1074.75,567.55 1075.50,551.89 1076.25,567.32 1077.00,552.65 1077.75,567.09 1078.50,553.49 1079.25,566.91 1080.00,554.35 1080.75,566.82 1081.50,555.13 1082.25,566.89 1083.00,555.80 1083.75,567.13 1084.50,556.29 1085.25,567.57 1086.00,556.60 1086.75,568.19 1087.50,556.72 1088.25,568.96 1089.00,556.67 1089.75,569.82 1090.50,556.49 1091.25,570.71 1092.00,556.24 1092.75,571.56 1093.50,555.97 1094.25,572.28 1095.00,555.74 1095.75,572.82 1096.50,555.57 1097.25,573.11 1098.00,555.51 1098.75,573.09 1099.50,555.56 1100.25,572.67 1101.00,555.65 1101.75,571.92 1102.50,555.75 1103.25,570.92 1104.00,555.83 1104.75,569.74 1105.50,555.83 1106.25,568.50 1107.00,555.70 1107.75,567.29 1108.50,555.38 1109.25,566.20 1110.00,554.85 1110.75,565.29 1111.50,554.09 1112.25,564.60 1113.00,553.14 1113.75,564.12 1114.50,552.04 1115.25,563.85 1116.00,550.87 1116.75,563.73 1117.50,549.72 1118.25,563.72 1119.00,548.69 1119.75,563.76 1120.50,547.88 1121.25,563.79 1122.00,547.38 1122.75,563.80 1123.50,547.24 1124.25,563.80 1125.00,547.41 1125.75,563.77 1126.50,547.91 1127.25,563.70 1128.00,548.68 1128.75,563.61 1129.50,549.65 1130.25,563.57 1131.00,550.72 1131.75,563.62 1132.50,551.79 1133.25,563.82 1134.00,552.78 1134.75,564.22 1135.50,553.61 1136.25,564.83 1137.00,554.24 1137.75,565.66 1138.50,554.66 1139.25,566.66 1140.00,554.87 1140.75,567.78 1141.50,554.91 1142.25,568.93 1143.00,554.82 1143.75,570.03 1144.50,554.67 1145.25,570.97 1146.00,554.51 1146.75,571.67 1147.50,554.39 1148.25,572.07 1149.00,554.33 1149.75,572.07 1150.50,554.42 1151.25,571.70 1152.00,554.59 1152.75,571.05 1153.50,554.82 1154.25,570.19 1155.00,555.07 1155.75,569.20 1156.50,555.27 1157.25,568.15 1158.00,555.37 1158.75,567.15 1159.50,555.32 1160.25,566.26 1161.00,555.08 1161.75,565.54 1162.50,554.62 1163.25,565.02 1164.00,553.97 1164.75,564.71 1165.50,553.16 1166.25,564.59 1167.00,552.24 1167.75,564.61 1168.50,551.30 1169.25,564.72 1170.00,550.42 1170.75,564.87 1171.50,549.69 1172.25,565.00 1173.00,549.19 1173.75,565.06 1174.50,548.97 1175.25,565.05 1176.00,548.98 1176.75,564.94 1177.50,549.16 1178.25,564.62 1179.00,549.50 1179.75,564.13 1180.50,549.95 1181.25,563.55 1182.00,550.43 1182.75,562.96 1183.50,550.86 1184.25,562.44 1185.00,551.17 1185.75,562.07 1186.50,551.29 1187.25,561.90 1188.00,551.20 1188.75,561.95 1189.50,550.89 1190.25,562.21 1191.00,550.38 1191.75,562.65 1192.50,549.75 1193.25,563.19 1194.00,549.05 1194.75,563.78 1195.50,548.37 1196.25,564.32 1197.00,547.80 1197.75,564.74 1198.50,547.41 1199.25,564.99 1200.00,547.24 1200.75,565.00 1201.50,547.26 1202.25,564.66 1203.00,547.33 1203.75,564.03 1204.50,547.42 1205.25,563.17 1206.00,547.50 1206.75,562.15 1207.50,547.53 1208.25,561.05 1209.00,547.46 1209.75,559.95 1210.50,547.25 1211.25,558.93 1212.00,546.85 1212.75,558.06 1213.50,546.25 1214.25,557.36 1215.00,545.47 1215.75,556.85 1216.50,544.53 1217.25,556.54 1218.00,543.47 1218.75,556.39 1219.50,542.37 1220.25,556.37 1221.00,541.31 1221.75,556.42 1222.50,540.36 1223.25,556.51 1224.00,539.62 1224.75,556.58 1225.50,539.14 1226.25,556.62 1227.00,538.97 1227.75,556.57 1228.50,539.13 1229.25,556.32 1230.00,539.53 1230.75,555.88 1231.50,540.10 1232.25,555.31 1233.00,540.78 1233.75,554.70 1234.50,541.47 1235.25,554.15 1236.00,542.07 1236.75,553.74 1237.50,542.50 1238.25,553.53 1239.00,542.71 1239.75,553.55 1240.50,542.68 1241.25,553.81 1242.00,542.43 1242.75,554.27 1243.50,542.01 1244.25,554.85 1245.00,541.49 1245.75,555.47 1246.50,540.96 1247.25,556.04 1248.00,540.52 1248.75,556.47 1249.50,540.23 1250.25,556.68 1251.00,540.15 1251.75,556.68 1252.50,540.28 1253.25,556.57 1254.00,540.66 1254.75,556.35 1255.50,541.24 1256.25,556.07 1257.00,541.97 1257.75,555.76 1258.50,542.77 1259.25,555.50 1260.00,543.58 1260.75,555.33 1261.50,544.31 1262.25,555.30 1263.00,544.91 1263.75,555.45 1264.50,545.35 1265.25,555.79 1266.00,545.59 1266.75,556.31 1267.50,545.65 1268.25,556.99 1269.00,545.55 1269.75,557.77 1270.50,545.32 1271.25,558.58 1272.00,545.03 1272.75,559.35 1273.50,544.73 1274.25,560.02 1275.00,544.47 1275.75,560.50 1276.50,544.30 1277.25,560.76 1278.00,544.25 1278.75,560.78 1279.50,544.36 1280.25,560.62 1281.00,544.72 1281.75,560.32 1282.50,545.28 1283.25,559.92 1284.00,545.96 1284.75,559.49 1285.50,546.67 1286.25,559.11 1287.00,547.34 1287.75,558.85 1288.50,547.88 1289.25,558.77 1290.00,548.23 1290.75,558.90 1291.50,548.37 1292.25,559.26 1293.00,548.28 1293.75,559.81 1294.50,548.01 1295.25,560.50 1296.00,547.61 1296.75,561.25 1297.50,547.14 1298.25,561.98 1299.00,546.69 1299.75,562.60 1300.50,546.33 1301.25,563.03 1302.00,546.11 1302.75,563.23 1303.50,546.08 1304.25,563.14 1305.00,546.30 1305.75,562.86 1306.50,546.72 1307.25,562.44 1308.00,547.28 1308.75,561.93 1309.50,547.92 1310.25,561.39 1311.00,548.58 1311.75,560.89 1312.50,549.18 1313.25,560.49 1314.00,549.66 1314.75,560.25 1315.50,549.96 1316.25,560.21 1317.00,550.07 1317.75,560.36 1318.50,549.98 1319.25,560.70 1320.00,549.72 1320.75,561.18 1321.50,549.33 1322.25,561.74 1323.00,548.88 1323.75,562.32 1324.50,548.43 1325.25,562.84 1326.00,548.05 1326.75,563.23 1327.50,547.79 1328.25,563.44 1329.00,547.71 1329.75,563.48 1330.50,547.71 1331.25,563.33 1332.00,547.86 1332.75,562.94 1333.50,548.14 1334.25,562.36 1335.00,548.49 1335.75,561.68 1336.50,548.85 1337.25,560.99 1338.00,549.12 1338.75,560.38 1339.50,549.24 1340.25,559.93 1341.00,549.16 1341.75,559.68 1342.50,548.85 1343.25,559.66 1344.00,548.32 1344.75,559.85 1345.50,547.62 1346.25,560.22 1347.00,546.80 1347.75,560.70 1348.50,545.97 1349.25,561.20 1350.00,545.20 1350.75,561.66 1351.50,544.59 1352.25,562.01 1353.00,544.20 1353.75,562.20 1354.50,544.13 1355.25,562.14 1356.00,544.45 1356.75,562.00 1357.50,545.06 1358.25,561.81 1359.00,545.90 1359.75,561.60 1360.50,546.91 1361.25,561.43 1362.00,547.98 1362.75,561.35 1363.50,549.05 1364.25,561.41 1365.00,550.03 1365.75,561.65 1366.50,550.87 1367.25,562.09 1368.00,551.51 1368.75,562.73 1369.50,551.96 1370.25,563.54 1371.00,552.21 1371.75,564.46 1372.50,552.31 1373.25,565.44 1374.00,552.28 1374.75,566.38 1375.50,552.19 1376.25,567.21 1377.00,552.09 1377.75,567.84 1378.50,552.03 1379.25,568.20 1380.00,552.03 1380.75,568.28 1381.50,552.05 1382.25,568.27 1383.00,552.29 1383.75,568.13 1384.50,552.74 1385.25,567.90 1386.00,553.36 1386.75,567.64 1387.50,554.07 1388.25,567.39 1389.00,554.80 1389.75,567.23 1390.50,555.46 1391.25,567.21 1392.00,555.99 1392.75,567.37 1393.50,556.35 1394.25,567.73 1395.00,556.50 1395.75,568.29 1396.50,556.46 1397.25,569.01 1398.00,556.25 1398.75,569.84 1399.50,555.92 1400.25,570.71 1401.00,555.52 1401.75,571.55 1402.50,555.11 1403.25,572.27 1404.00,554.76 1404.75,572.81 1405.50,554.52 1406.25,573.11 1407.00,554.42 1407.75,573.05 1408.50,554.59 1409.25,572.64 1410.00,554.89 1410.75,571.98 1411.50,555.29 1412.25,571.15 1413.00,555.73 1413.75,570.24 1414.50,556.12 1415.25,569.33 1416.00,556.41 1416.75,568.51 1417.50,556.51 1418.25,567.87 1419.00,556.40 1419.75,567.43 1420.50,556.07 1421.25,567.22 1422.00,555.53 1422.75,567.22 1423.50,554.84 1424.25,567.39 1425.00,554.07 1425.75,567.64 1426.50,553.32 1427.25,567.93 1428.00,552.68 1428.75,568.16 1429.50,552.23 1430.25,568.28 1431.00,552.04 1431.75,568.27 1432.50,552.10 1433.25,568.18 1434.00,552.39 1434.75,567.96 1435.50,552.91 1436.25,567.64 1437.00,553.59 1437.75,567.28 1438.50,554.36 1439.25,566.93 1440.00,555.16 1440.75,566.66 1441.50,555.89 1442.25,566.52 1443.00,556.50 1443.75,566.56 1444.50,556.94 1445.25,566.79 1446.00,557.18 1446.75,567.22 1447.50,557.22 1448.25,567.82 1449.00,557.10 1449.75,568.53 1450.50,556.84 1451.25,569.30 1452.00,556.52 1452.75,570.04 1453.50,556.18 1454.25,570.68 1455.00,555.90 1455.75,571.15 1456.50,555.72 1457.25,571.40 1458.00,555.66 1458.75,571.47 1459.50,555.59 1460.25,571.37 1461.00,555.68 1461.75,571.05 1462.50,555.90 1463.25,570.56 1464.00,556.18 1464.75,569.99 1465.50,556.45 1466.25,569.43 1467.00,556.63 1467.75,568.97 1468.50,556.65 1469.25,568.67 1470.00,556.46 1470.75,568.59 1471.50,556.05 1472.25,568.73 1473.00,555.42 1473.75,569.07 1474.50,554.63 1475.25,569.58 1476.00,553.74 1476.75,570.18 1477.50,552.84 1478.25,570.80 1479.00,552.01 1479.75,571.36 1480.50,551.35 1481.25,571.78 1482.00,550.91 1482.75,572.05 1483.50,550.83 1484.25,571.81 1485.00,550.99 1485.75,571.25 1486.50,551.20 1487.25,570.43 1488.00,551.44 1488.75,569.42 1489.50,551.66 1490.25,568.30 1491.00,551.81 1491.75,567.17 1492.50,551.82 1493.25,566.10 1494.00,551.67 1494.75,565.17 1495.50,551.31 1496.25,564.41 1497.00,550.74 1497.75,563.87 1498.50,549.99 1499.25,563.52 1500.00,549.11 1500.75,563.35 1501.50,548.16 1502.25,563.32 1503.00,547.22 1503.75,563.35 1504.50,546.39 1505.25,563.42 1506.00,545.74 1506.75,563.45 1507.50,545.35 1508.25,563.43 1509.00,545.27 1509.75,563.41 1510.50,545.22 1511.25,563.26 1512.00,545.29 1512.75,562.87 1513.50,545.45 1514.25,562.31 1515.00,545.65 1515.75,561.64 1516.50,545.84 1517.25,560.93 1518.00,545.96 1518.75,560.27 1519.50,545.95 1520.25,559.72 1521.00,545.77 1521.75,559.34 1522.50,545.39 1523.25,559.15 1524.00,544.82 1524.75,559.16 1525.50,544.07 1526.25,559.35 1527.00,543.20 1527.75,559.67 1528.50,542.28 1529.25,560.08 1530.00,541.37 1530.75,560.51 1531.50,540.56 1532.25,560.90 1533.00,539.92 1533.75,561.21 1534.50,539.50 1535.25,561.40 1536.00,539.34 1536.75,561.29 1537.50,539.21 1538.25,560.66 1539.00,539.03 1539.75,559.60 1540.50,538.76 1541.25,558.22 1542.00,538.36 1542.75,556.66 1543.50,537.79 1544.25,555.05 1545.00,536.98 1545.75,553.51 1546.50,535.92 1547.25,552.14 1548.00,534.61 1548.75,551.00 1549.50,533.06 1550.25,550.12 1551.00,531.37 1551.75,549.50 1552.50,529.62 1553.25,549.10 1554.00,527.94 1554.75,548.86 1555.50,526.47 1556.25,548.75 1557.00,525.34 1557.75,548.71 1558.50,524.65 1559.25,548.74 1560.00,524.56 1560.75,548.44 1561.50,524.83 1562.25,547.79 1563.00,525.16 1563.75,546.86 1564.50,525.51 1565.25,545.74 1566.00,525.85 1566.75,544.49 1567.50,526.12 1568.25,543.20 1569.00,526.27 1569.75,541.96 1570.50,526.25 1571.25,540.84 1572.00,526.04 1572.75,539.89 1573.50,525.63 1574.25,539.13 1575.00,525.03 1575.75,538.58 1576.50,524.29 1577.25,538.20 1578.00,523.46 1578.75,537.97 1579.50,522.63 1580.25,537.84 1581.00,521.88 1581.75,537.74 1582.50,521.29 1583.25,537.64 1584.00,520.94 1584.75,537.49 1585.50,520.88 1586.25,537.34 1587.00,520.99 1587.75,537.44 1588.50,521.45 1589.25,537.55 1590.00,522.31 1590.75,537.70 1591.50,523.46 1592.25,537.92 1593.00,524.78 1593.75,538.28 1594.50,526.16 1595.25,538.85 1596.00,527.46 1596.75,539.65 1597.50,528.60 1598.25,540.71 1599.00,529.51 1599.75,542.00 1600.50,530.17 1601.25,543.47 1602.00,530.59 1602.75,545.03 1603.50,530.79 1604.25,546.56 1605.00,530.85 1605.75,547.93 1606.50,530.81 1607.25,549.04 1608.00,530.74 1608.75,549.76 1609.50,530.65 1610.25,550.01 1611.00,530.62 1611.75,550.01 1612.50,530.62 1613.25,550.01 1614.00,530.62 1614.75,550.01 1615.50,530.62 1616.25,550.01 1617.00,530.62 1617.75,550.01 1618.50,530.62 1619.25,550.01 1620.00,530.62 1620.75,550.01 1621.50,530.62 1622.25,550.01 1623.00,530.62 1623.75,550.01 1624.50,530.62"/>
<polyline stroke="#00ff00" points="1039.00,495.93 1039.50,492.54 1040.00,489.63 1040.50,487.23 1041.00,485.35 1041.50,484.00 1042.00,483.18 1042.50,482.91 1043.00,483.02 1043.50,483.35 1044.00,483.91 1044.50,484.68 1045.00,485.68 1045.50,486.89 1046.00,488.31 1046.50,489.94 1047.00,491.78 1047.50,493.82 1048.00,496.05 1048.50,498.47 1049.00,501.08 1049.50,503.86 1050.00,506.82 1050.50,509.93 1051.00,513.21 1051.50,516.63 1052.00,520.18 1052.50,523.87 1053.00,527.68 1053.50,531.59 1054.00,535.61 1054.50,539.72 1055.00,543.91 1055.50,548.17 1056.00,552.49 1056.50,556.86 1057.00,561.26 1057.50,565.69 1058.00,570.14 1058.50,574.59 1059.00,579.03 1059.50,583.46 1060.00,587.86 1060.50,592.21 1061.00,596.52 1061.50,600.76 1062.00,604.94 1062.50,609.03 1063.00,613.02 1063.50,616.91 1064.00,620.69 1064.50,624.35 1065.00,627.88 1065.50,631.26 1066.00,634.50 1066.50,637.58 1067.00,640.50 1067.50,643.24 1068.00,645.80 1068.50,648.18 1069.00,650.37 1069.50,652.36 1070.00,654.15 1070.50,655.74 1071.00,657.11 1071.50,658.27 1072.00,659.22 1072.50,659.94 1073.00,660.44 1073.50,660.73 1074.00,660.78 1074.50,660.38 1075.00,659.44 1075.50,657.96 1076.00,655.96 1076.50,653.44 1077.00,650.42 1077.50,646.92 1078.00,642.96 1078.50,638.56 1079.00,633.76 1079.50,628.57 1080.00,623.04 1080.50,617.20 1081.00,611.08 1081.50,604.71 1082.00,598.15 1082.50,591.42 1083.00,584.58 1083.50,577.66 1084.00,570.70 1084.50,563.75 1085.00,556.84 1085.50,550.03 1086.00,543.36 1086.50,536.86 1087.00,530.57 1087.50,524.53 1088.00,518.79 1088.50,513.37 1089.00,508.31 1089.50,503.64 1090.00,499.38 1090.50,495.57 1091.00,492.23 1091.50,489.37 1092.00,487.02 1092.50,485.19 1093.00,483.89 1093.50,483.13 1094.00,482.91 1094.50,483.04 1095.00,483.40 1095.50,483.98 1096.00,484.77 1096.50,485.79 1097.00,487.02 1097.50,488.46 1098.00,490.12 1098.50,491.97 1099.00,494.03 1099.50,496.28 1100.00,498.73 1100.50,501.35 1101.00,504.15 1101.50,507.12 1102.00,510.26 1102.50,513.54 1103.00,516.98 1103.50,520.55 1104.00,524.24 1104.50,528.06 1105.00,531.99 1105.50,536.02 1106.00,540.14 1106.50,544.33 1107.00,548.60 1107.50,552.92 1108.00,557.29 1108.50,561.70 1109.00,566.14 1109.50,570.58 1110.00,575.03 1110.50,579.48 1111.00,583.90 1111.50,588.30 1112.00,592.65 1112.50,596.95 1113.00,601.19 1113.50,605.35 1114.00,609.43 1114.50,613.42 1115.00,617.30 1115.50,621.07 1116.00,624.71 1116.50,628.22 1117.00,631.59 1117.50,634.82 1118.00,637.88 1118.50,640.78 1119.00,643.50 1119.50,646.05 1120.00,648.41 1120.50,650.58 1121.00,652.55 1121.50,654.32 1122.00,655.88 1122.50,657.24 1123.00,658.38 1123.50,659.30 1124.00,660.00 1124.50,660.48 1125.00,660.74 1125.50,660.76 1126.00,660.31 1126.50,659.32 1127.00,657.79 1127.50,655.73 1128.00,653.16 1128.50,650.09 1129.00,646.54 1129.50,642.54 1130.00,638.10 1130.50,633.26 1131.00,628.04 1131.50,622.47 1132.00,616.60 1132.50,610.45 1133.00,604.07 1133.50,597.48 1134.00,590.74 1134.50,583.89 1135.00,576.96 1135.50,570.00 1136.00,563.05 1136.50,556.16 1137.00,549.36 1137.50,542.70 1138.00,536.22 1138.50,529.95 1139.00,523.95 1139.50,518.23 1140.00,512.85 1140.50,507.82 1141.00,503.19 1141.50,498.98 1142.00,495.22 1142.50,491.92 1143.00,489.11 1143.50,486.81 1144.00,485.04 1144.50,483.79 1145.00,483.08 1145.50,482.91 1146.00,483.07 1146.50,483.45 1147.00,484.05 1147.50,484.87 1148.00,485.90 1148.50,487.16 1149.00,488.62 1149.50,490.29 1150.00,492.17 1150.50,494.25 1151.00,496.52 1151.50,498.98 1152.00,501.62 1152.50,504.44 1153.00,507.43 1153.50,510.58 1154.00,513.88 1154.50,517.33 1155.00,520.91 1155.50,524.62 1156.00,528.45 1156.50,532.39 1157.00,536.43 1157.50,540.55 1158.00,544.76 1158.50,549.03 1159.00,553.36 1159.50,557.73 1160.00,562.15 1160.50,566.58 1161.00,571.03 1161.50,575.48 1162.00,579.92 1162.50,584.34 1163.00,588.73 1163.50,593.08 1164.00,597.37 1164.50,601.61 1165.00,605.76 1165.50,609.83 1166.00,613.81 1166.50,617.68 1167.00,621.44 1167.50,625.07 1168.00,628.57 1168.50,631.92 1169.00,635.13 1169.50,638.18 1170.00,641.06 1170.50,643.77 1171.00,646.29 1171.50,648.64 1172.00,650.79 1172.50,652.74 1173.00,654.49 1173.50,656.03 1174.00,657.36 1174.50,658.48 1175.00,659.38 1175.50,660.06 1176.00,660.52 1176.50,660.76 1177.00,660.74 1177.50,660.24 1178.00,659.19 1178.50,657.60 1179.00,655.50 1179.50,652.87 1180.00,649.76 1180.50,646.16 1181.00,642.11 1181.50,637.63 1182.00,632.75 1182.50,627.50 1183.00,621.90 1183.50,616.00 1184.00,609.82 1184.50,603.42 1185.00,596.82 1185.50,590.06 1186.00,583.20 1186.50,576.27 1187.00,569.31 1187.50,562.36 1188.00,555.47 1188.50,548.69 1189.00,542.04 1189.50,535.58 1190.00,529.34 1190.50,523.36 1191.00,517.68 1191.50,512.33 1192.00,507.34 1192.50,502.75 1193.00,498.58 1193.50,494.86 1194.00,491.62 1194.50,488.86 1195.00,486.61 1195.50,484.89 1196.00,483.69 1196.50,483.04 1197.00,482.92 1197.50,483.10 1198.00,483.50 1198.50,484.12 1199.00,484.96 1199.50,486.02 1200.00,487.29 1200.50,488.78 1201.00,490.47 1201.50,492.37 1202.00,494.47 1202.50,496.76 1203.00,499.24 1203.50,501.90 1204.00,504.73 1204.50,507.74 1205.00,510.90 1205.50,514.22 1206.00,517.68 1206.50,521.28 1207.00,525.00 1207.50,528.84 1208.00,532.79 1208.50,536.84 1209.00,540.97 1209.50,545.18 1210.00,549.46 1210.50,553.79 1211.00,558.17 1211.50,562.59 1212.00,567.03 1212.50,571.47 1213.00,575.92 1213.50,580.36 1214.00,584.78 1214.50,589.17 1215.00,593.51 1215.50,597.80 1216.00,602.02 1216.50,606.17 1217.00,610.23 1217.50,614.20 1218.00,618.06 1218.50,621.80 1219.00,625.42 1219.50,628.91 1220.00,632.25 1220.50,635.44 1221.00,638.47 1221.50,641.34 1222.00,644.03 1222.50,646.54 1223.00,648.86 1223.50,650.99 1224.00,652.92 1224.50,654.65 1225.00,656.17 1225.50,657.48 1226.00,658.58 1226.50,659.46 1227.00,660.11 1227.50,660.55 1228.00,660.77 1228.50,660.72 1229.00,660.15 1229.50,659.05 1230.00,657.42 1230.50,655.26 1231.00,652.59 1231.50,649.42 1232.00,645.78 1232.50,641.68 1233.00,637.16 1233.50,632.24 1234.00,626.95 1234.50,621.32 1235.00,615.39 1235.50,609.19 1236.00,602.76 1236.50,596.15 1237.00,589.38 1237.50,582.51 1238.00,575.57 1238.50,568.61 1239.00,561.67 1239.50,554.79 1240.00,548.02 1240.50,541.39 1241.00,534.95 1241.50,528.73 1242.00,522.78 1242.50,517.13 1243.00,511.81 1243.50,506.86 1244.00,502.31 1244.50,498.19 1245.00,494.52 1245.50,491.32 1246.00,488.61 1246.50,486.42 1247.00,484.74 1247.50,483.60 1248.00,483.01 1248.50,482.93 1249.00,483.13 1249.50,483.55 1250.00,484.19 1250.50,485.06 1251.00,486.14 1251.50,487.43 1252.00,488.94 1252.50,490.65 1253.00,492.57 1253.50,494.69 1254.00,497.00 1254.50,499.49 1255.00,502.17 1255.50,505.03 1256.00,508.05 1256.50,511.23 1257.00,514.56 1257.50,518.03 1258.00,521.64 1258.50,525.38 1259.00,529.23 1259.50,533.19 1260.00,537.25 1260.50,541.39 1261.00,545.61 1261.50,549.89 1262.00,554.23 1262.50,558.61 1263.00,563.03 1263.50,567.47 1264.00,571.92 1264.50,576.37 1265.00,580.81 1265.50,585.22 1266.00,589.61 1266.50,593.94 1267.00,598.23 1267.50,602.44 1268.00,606.58 1268.50,610.64 1269.00,614.59 1269.50,618.44 1270.00,622.17 1270.50,625.78 1271.00,629.25 1271.50,632.58 1272.00,635.75 1272.50,638.77 1273.00,641.61 1273.50,644.29 1274.00,646.78 1274.50,649.08 1275.00,651.19 1275.50,653.10 1276.00,654.81 1276.50,656.31 1277.00,657.60 1277.50,658.67 1278.00,659.53 1278.50,660.17 1279.00,660.58 1279.50,660.78 1280.00,660.68 1280.50,660.07 1281.00,658.91 1281.50,657.22 1282.00,655.01 1282.50,652.29 1283.00,649.08 1283.50,645.39 1284.00,641.25 1284.50,636.69 1285.00,631.73 1285.50,626.40 1286.00,620.74 1286.50,614.78 1287.00,608.56 1287.50,602.11 1288.00,595.48 1288.50,588.70 1289.00,581.82 1289.50,574.88 1290.00,567.91 1290.50,560.98 1291.00,554.11 1291.50,547.35 1292.00,540.73 1292.50,534.31 1293.00,528.12 1293.50,522.20 1294.00,516.58 1294.50,511.30 1295.00,506.39 1295.50,501.88 1296.00,497.80 1296.50,494.18 1297.00,491.03 1297.50,488.37 1298.00,486.23 1298.50,484.61 1299.00,483.52 1299.50,482.98 1300.00,482.94 1300.50,483.16 1301.00,483.60 1301.50,484.27 1302.00,485.15 1302.50,486.26 1303.00,487.57 1303.50,489.10 1304.00,490.84 1304.50,492.77 1305.00,494.91 1305.50,497.24 1306.00,499.75 1306.50,502.45 1307.00,505.32 1307.50,508.36 1308.00,511.55 1308.50,514.90 1309.00,518.39 1309.50,522.01 1310.00,525.76 1310.50,529.62 1311.00,533.59 1311.50,537.66 1312.00,541.81 1312.50,546.03 1313.00,550.32 1313.50,554.67 1314.00,559.05 1314.50,563.47 1315.00,567.91 1315.50,572.36 1316.00,576.81 1316.50,581.25 1317.00,585.66 1317.50,590.04 1318.00,594.37 1318.50,598.65 1319.00,602.86 1319.50,606.99 1320.00,611.04 1320.50,614.98 1321.00,618.82 1321.50,622.54 1322.00,626.13 1322.50,629.59 1323.00,632.90 1323.50,636.06 1324.00,639.06 1324.50,641.89 1325.00,644.54 1325.50,647.02 1326.00,649.30 1326.50,651.39 1327.00,653.28 1327.50,654.97 1328.00,656.45 1328.50,657.72 1329.00,658.77 1329.50,659.61 1330.00,660.22 1330.50,660.61 1331.00,660.78 1331.50,660.65 1332.00,659.98 1332.50,658.77 1333.00,657.03 1333.50,654.76 1334.00,651.99 1334.50,648.73 1335.00,645.00 1335.50,640.81 1336.00,636.21 1336.50,631.21 1337.00,625.85 1337.50,620.16 1338.00,614.17 1338.50,607.92 1339.00,601.45 1339.50,594.80 1340.00,588.01 1340.50,581.13 1341.00,574.18 1341.50,567.22 1342.00,560.29 1342.50,553.43 1343.00,546.68 1343.50,540.08 1344.00,533.68 1344.50,527.52 1345.00,521.62 1345.50,516.04 1346.00,510.79 1346.50,505.92 1347.00,501.45 1347.50,497.42 1348.00,493.84 1348.50,490.74 1349.00,488.13 1349.50,486.04 1350.00,484.47 1350.50,483.44 1351.00,482.95 1351.50,482.95 1352.00,483.19 1352.50,483.66 1353.00,484.35 1353.50,485.25 1354.00,486.38 1354.50,487.72 1355.00,489.27 1355.50,491.02 1356.00,492.98 1356.50,495.13 1357.00,497.48 1357.50,500.02 1358.00,502.73 1358.50,505.62 1359.00,508.67 1359.50,511.88 1360.00,515.24 1360.50,518.74 1361.00,522.38 1361.50,526.14 1362.00,530.01 1362.50,533.99 1363.00,538.07 1363.50,542.23 1364.00,546.46 1364.50,550.75 1365.00,555.10 1365.50,559.50 1366.00,563.92 1366.50,568.36 1367.00,572.81 1367.50,577.26 1368.00,581.69 1368.50,586.10 1369.00,590.48 1369.50,594.80 1370.00,599.08 1370.50,603.28 1371.00,607.40 1371.50,611.43 1372.00,615.37 1372.50,619.20 1373.00,622.90 1373.50,626.48 1374.00,629.93 1374.50,633.22 1375.00,636.37 1375.50,639.35 1376.00,642.16 1376.50,644.80 1377.00,647.25 1377.50,649.52 1378.00,651.59 1378.50,653.46 1379.00,655.13 1379.50,656.59 1380.00,657.83 1380.50,658.86 1381.00,659.68 1381.50,660.27 1382.00,660.64 1382.50,660.79 1383.00,660.60 1383.50,659.88 1384.00,658.62 1384.50,656.82 1385.00,654.51 1385.50,651.69 1386.00,648.38 1386.50,644.60 1387.00,640.37 1387.50,635.73 1388.00,630.69 1388.50,625.30 1389.00,619.57 1389.50,613.56 1390.00,607.29 1390.50,600.80 1391.00,594.13 1391.50,587.33 1392.00,580.43 1392.50,573.48 1393.00,566.52 1393.50,559.60 1394.00,552.75 1394.50,546.01 1395.00,539.43 1395.50,533.06 1396.00,526.92 1396.50,521.05 1397.00,515.50 1397.50,510.29 1398.00,505.46 1398.50,501.03 1399.00,497.04 1399.50,493.51 1400.00,490.45 1400.50,487.90 1401.00,485.86 1401.50,484.35 1402.00,483.37 1402.50,482.93 1403.00,482.96 1403.50,483.23 1404.00,483.72 1404.50,484.43 1405.00,485.36 1405.50,486.50 1406.00,487.86 1406.50,489.43 1407.00,491.21 1407.50,493.19 1408.00,495.36 1408.50,497.73 1409.00,500.28 1409.50,503.01 1410.00,505.91 1410.50,508.98 1411.00,512.21 1411.50,515.59 1412.00,519.10 1412.50,522.75 1413.00,526.52 1413.50,530.41 1414.00,534.40 1414.50,538.48 1415.00,542.65 1415.50,546.89 1416.00,551.19 1416.50,555.54 1417.00,559.94 1417.50,564.36 1418.00,568.80 1418.50,573.25 1419.00,577.70 1419.50,582.13 1420.00,586.54 1420.50,590.91 1421.00,595.23 1421.50,599.50 1422.00,603.69 1422.50,607.81 1423.00,611.83 1423.50,615.76 1424.00,619.57 1424.50,623.27 1425.00,626.83 1425.50,630.26 1426.00,633.55 1426.50,636.67 1427.00,639.64 1427.50,642.43 1428.00,645.05 1428.50,647.49 1429.00,649.74 1429.50,651.79 1430.00,653.64 1430.50,655.28 1431.00,656.72 1431.50,657.95 1432.00,658.95 1432.50,659.75 1433.00,660.32 1433.50,660.67 1434.00,660.79 1434.50,660.56 1435.00,659.78 1435.50,658.46 1436.00,656.61 1436.50,654.25 1437.00,651.38 1437.50,648.02 1438.00,644.19 1438.50,639.93 1439.00,635.24 1439.50,630.17 1440.00,624.74 1440.50,618.98 1441.00,612.94 1441.50,606.65 1442.00,600.14 1442.50,593.46 1443.00,586.64 1443.50,579.74 1444.00,572.79 1444.50,565.83 1445.00,558.91 1445.50,552.07 1446.00,545.34 1446.50,538.79 1447.00,532.43 1447.50,526.32 1448.00,520.48 1448.50,514.96 1449.00,509.79 1449.50,505.00 1450.00,500.61 1450.50,496.67 1451.00,493.18 1451.50,490.18 1452.00,487.67 1452.50,485.68 1453.00,484.22 1453.50,483.30 1454.00,482.92 1454.50,482.98 1455.00,483.27 1455.50,483.78 1456.00,484.51 1456.50,485.46 1457.00,486.63 1457.50,488.01 1458.00,489.60 1458.50,491.40 1459.00,493.39 1459.50,495.59 1460.00,497.97 1460.50,500.54 1461.00,503.29 1461.50,506.21 1462.00,509.30 1462.50,512.54 1463.00,515.93 1463.50,519.46 1464.00,523.12 1464.50,526.91 1465.00,530.80 1465.50,534.80 1466.00,538.89 1466.50,543.07 1467.00,547.31 1467.50,551.62 1468.00,555.98 1468.50,560.38 1469.00,564.80 1469.50,569.25 1470.00,573.70 1470.50,578.15 1471.00,582.58 1471.50,586.98 1472.00,591.35 1472.50,595.66 1473.00,599.92 1473.50,604.11 1474.00,608.21 1474.50,612.23 1475.00,616.14 1475.50,619.95 1476.00,623.63 1476.50,627.18 1477.00,630.60 1477.50,633.87 1478.00,636.98 1478.50,639.93 1479.00,642.70 1479.50,645.31 1480.00,647.72 1480.50,649.95 1481.00,651.98 1481.50,653.81 1482.00,655.44 1482.50,656.85 1483.00,658.06 1483.50,659.04 1484.00,659.81 1484.50,660.36 1485.00,660.69 1485.50,660.79 1486.00,660.50 1486.50,659.67 1487.00,658.30 1487.50,656.40 1488.00,653.98 1488.50,651.06 1489.00,647.66 1489.50,643.79 1490.00,639.48 1490.50,634.75 1491.00,629.64 1491.50,624.18 1492.00,618.39 1492.50,612.32 1493.00,606.00 1493.50,599.48 1494.00,592.78 1494.50,585.96 1495.00,579.05 1495.50,572.09 1496.00,565.13 1496.50,558.22 1497.00,551.39 1497.50,544.68 1498.00,538.14 1498.50,531.81 1499.00,525.72 1499.50,519.91 1500.00,514.43 1500.50,509.29 1501.00,504.54 1501.50,500.20 1502.00,496.30 1502.50,492.86 1503.00,489.90 1503.50,487.45 1504.00,485.51 1504.50,484.11 1505.00,483.24 1505.50,482.91 1506.00,483.00 1506.50,483.31 1507.00,483.84 1507.50,484.60 1508.00,485.57 1508.50,486.76 1509.00,488.16 1509.50,489.77 1510.00,491.59 1510.50,493.60 1511.00,495.82 1511.50,498.22 1512.00,500.81 1512.50,503.58 1513.00,506.51 1513.50,509.62 1514.00,512.87 1514.50,516.28 1515.00,519.82 1515.50,523.50 1516.00,527.29 1516.50,531.20 1517.00,535.21 1517.50,539.31 1518.00,543.49 1518.50,547.74 1519.00,552.05 1519.50,556.42 1520.00,560.82 1520.50,565.25 1521.00,569.69 1521.50,574.14 1522.00,578.59 1522.50,583.02 1523.00,587.42 1523.50,591.78 1524.00,596.09 1524.50,600.34 1525.00,604.52 1525.50,608.62 1526.00,612.63 1526.50,616.53 1527.00,620.32 1527.50,623.99 1528.00,627.53 1528.50,630.93 1529.00,634.18 1529.50,637.28 1530.00,640.21 1530.50,642.97 1531.00,645.56 1531.50,647.95 1532.00,650.16 1532.50,652.17 1533.00,653.98 1533.50,655.59 1534.00,656.98 1534.50,658.16 1535.00,659.13 1535.50,659.88 1536.00,660.40 1536.50,660.71 1537.00,660.79 1537.50,660.44 1538.00,659.56 1538.50,658.13 1539.00,656.18 1539.50,653.71 1540.00,650.74 1540.50,647.29 1541.00,643.38 1541.50,639.02 1542.00,634.26 1542.50,629.11 1543.00,623.61 1543.50,617.80 1544.00,611.70 1544.50,605.36 1545.00,598.81 1545.50,592.10 1546.00,585.27 1546.50,578.35 1547.00,571.39 1547.50,564.44 1548.00,557.53 1548.50,550.71 1549.00,544.02 1549.50,537.50 1550.00,531.19 1550.50,525.13 1551.00,519.35 1551.50,513.90 1552.00,508.80 1552.50,504.08 1553.00,499.79 1553.50,495.93 1554.00,492.54 1554.50,489.63 1555.00,487.23 1555.50,485.35 1556.00,484.00 1556.50,483.18 1557.00,482.91 1557.50,483.02 1558.00,483.35 1558.50,483.91 1559.00,484.68 1559.50,485.68 1560.00,486.89 1560.50,488.31 1561.00,489.94 1561.50,491.78 1562.00,493.82 1562.50,496.05 1563.00,498.47 1563.50,501.08 1564.00,503.86 1564.50,506.82 1565.00,509.93 1565.50,513.21 1566.00,516.63 1566.50,520.18 1567.00,523.87 1567.50,527.68 1568.00,531.59 1568.50,535.61 1569.00,539.72 1569.50,543.91 1570.00,548.17 1570.50,552.49 1571.00,556.86 1571.50,561.26 1572.00,565.69 1572.50,570.14 1573.00,574.59 1573.50,579.03 1574.00,583.46 1574.50,587.86 1575.00,592.21 1575.50,596.52 1576.00,600.76 1576.50,604.94 1577.00,609.03 1577.50,613.02 1578.00,616.91 1578.50,620.69 1579.00,624.35 1579.50,627.88 1580.00,631.26 1580.50,634.50 1581.00,637.58 1581.50,640.50 1582.00,643.24 1582.50,645.80 1583.00,648.18 1583.50,650.37 1584.00,652.36 1584.50,654.15 1585.00,655.74 1585.50,657.11 1586.00,658.27 1586.50,659.22 1587.00,659.94 1587.50,660.44 1588.00,660.73 1588.50,660.78 1589.00,660.38 1589.50,659.44 1590.00,657.96 1590.50,655.96 1591.00,653.44 1591.50,650.42 1592.00,646.92 1592.50,642.96 1593.00,638.56 1593.50,633.76 1594.00,628.57 1594.50,623.04 1595.00,617.20 1595.50,611.08 1596.00,604.71 1596.50,598.15 1597.00,591.42 1597.50,584.58 1598.00,577.66 1598.50,570.70 1599.00,563.75 1599.50,556.84 1600.00,550.03 1600.50,543.36 1601.00,536.86 1601.50,530.57 1602.00,524.53 1602.50,518.79 1603.00,513.37 1603.50,508.31 1604.00,503.64 1604.50,499.38 1605.00,495.57 1605.50,492.23 1606.00,489.37 1606.50,487.02 1607.00,485.19 1607.50,483.89 1608.00,483.13 1608.50,482.91 1609.00,483.04 1609.50,483.40 1610.00,483.98 1610.50,484.77 1611.00,485.79 1611.50,487.02 1612.00,488.46 1612.50,490.12 1613.00,491.97 1613.50,494.03 1614.00,496.28 1614.50,498.73"/>
<polyline stroke="#ff0000" points="1036.00,567.27 1036.50,571.73 1037.00,576.16 1037.50,580.55 1038.00,584.88 1038.50,589.15 1039.00,593.33 1039.50,597.43 1040.00,601.42 1040.50,605.30 1041.00,609.06 1041.50,612.68 1042.00,616.16 1042.50,619.49 1043.00,622.64 1043.50,625.63 1044.00,628.44 1044.50,631.06 1045.00,633.48 1045.50,635.70 1046.00,637.71 1046.50,639.51 1047.00,641.09 1047.50,642.44 1048.00,643.57 1048.50,644.46 1049.00,645.12 1049.50,645.55 1050.00,645.74 1050.50,645.65 1051.00,645.11 1051.50,644.12 1052.00,642.69 1052.50,640.83 1053.00,638.54 1053.50,635.84 1054.00,632.74 1054.50,629.26 1055.00,625.41 1055.50,621.22 1056.00,616.71 1056.50,611.90 1057.00,606.82 1057.50,601.50 1058.00,595.96 1058.50,590.23 1059.00,584.35 1059.50,578.34 1060.00,572.24 1060.50,566.07 1061.00,559.88 1061.50,553.70 1062.00,547.55 1062.50,541.47 1063.00,535.49 1063.50,529.65 1064.00,523.98 1064.50,518.50 1065.00,513.24 1065.50,508.24 1066.00,503.52 1066.50,499.10 1067.00,495.00 1067.50,491.26 1068.00,487.89 1068.50,484.90 1069.00,482.32 1069.50,480.16 1070.00,478.42 1070.50,477.12 1071.00,476.26 1071.50,475.86 1072.00,475.86 1072.50,476.12 1073.00,476.62 1073.50,477.35 1074.00,478.31 1074.50,479.51 1075.00,480.93 1075.50,482.57 1076.00,484.43 1076.50,486.50 1077.00,488.78 1077.50,491.26 1078.00,493.94 1078.50,496.80 1079.00,499.84 1079.50,503.04 1080.00,506.41 1080.50,509.93 1081.00,513.60 1081.50,517.39 1082.00,521.31 1082.50,525.33 1083.00,529.45 1083.50,533.67 1084.00,537.95 1084.50,542.30 1085.00,546.71 1085.50,551.15 1086.00,555.61 1086.50,560.10 1087.00,564.58 1087.50,569.05 1088.00,573.51 1088.50,577.92 1089.00,582.29 1089.50,586.60 1090.00,590.83 1090.50,594.98 1091.00,599.04 1091.50,602.99 1092.00,606.82 1092.50,610.53 1093.00,614.09 1093.50,617.51 1094.00,620.77 1094.50,623.86 1095.00,626.78 1095.50,629.51 1096.00,632.05 1096.50,634.39 1097.00,636.53 1097.50,638.46 1098.00,640.17 1098.50,641.65 1099.00,642.92 1099.50,643.95 1100.00,644.75 1100.50,645.32 1101.00,645.66 1101.50,645.75 1102.00,645.48 1102.50,644.77 1103.00,643.60 1103.50,642.00 1104.00,639.97 1104.50,637.51 1105.00,634.65 1105.50,631.39 1106.00,627.76 1106.50,623.78 1107.00,619.45 1107.50,614.82 1108.00,609.90 1108.50,604.72 1109.00,599.31 1109.50,593.69 1110.00,587.89 1110.50,581.96 1111.00,575.91 1111.50,569.78 1112.00,563.60 1112.50,557.41 1113.00,551.23 1113.50,545.11 1114.00,539.07 1114.50,533.14 1115.00,527.36 1115.50,521.76 1116.00,516.37 1116.50,511.21 1117.00,506.31 1117.50,501.71 1118.00,497.42 1118.50,493.46 1119.00,489.87 1119.50,486.65 1120.00,483.82 1120.50,481.40 1121.00,479.41 1121.50,477.85 1122.00,476.72 1122.50,476.05 1123.00,475.82 1123.50,475.94 1124.00,476.29 1124.50,476.88 1125.00,477.71 1125.50,478.76 1126.00,480.05 1126.50,481.56 1127.00,483.29 1127.50,485.23 1128.00,487.39 1128.50,489.75 1129.00,492.31 1129.50,495.06 1130.00,497.99 1130.50,501.10 1131.00,504.37 1131.50,507.80 1132.00,511.38 1132.50,515.10 1133.00,518.94 1133.50,522.90 1134.00,526.97 1134.50,531.13 1135.00,535.37 1135.50,539.69 1136.00,544.06 1136.50,548.48 1137.00,552.93 1137.50,557.41 1138.00,561.89 1138.50,566.37 1139.00,570.84 1139.50,575.28 1140.00,579.67 1140.50,584.02 1141.00,588.30 1141.50,592.50 1142.00,596.62 1142.50,600.63 1143.00,604.54 1143.50,608.32 1144.00,611.97 1144.50,615.48 1145.00,618.83 1145.50,622.03 1146.00,625.05 1146.50,627.89 1147.00,630.55 1147.50,633.01 1148.00,635.27 1148.50,637.33 1149.00,639.17 1149.50,640.79 1150.00,642.19 1150.50,643.36 1151.00,644.30 1151.50,645.01 1152.00,645.48 1152.50,645.72 1153.00,645.70 1153.50,645.25 1154.00,644.36 1154.50,643.01 1155.00,641.24 1155.50,639.03 1156.00,636.41 1156.50,633.39 1157.00,629.98 1157.50,626.21 1158.00,622.09 1158.50,617.64 1159.00,612.89 1159.50,607.86 1160.00,602.58 1160.50,597.08 1161.00,591.39 1161.50,585.54 1162.00,579.55 1162.50,573.46 1163.00,567.31 1163.50,561.12 1164.00,554.93 1164.50,548.77 1165.00,542.68 1165.50,536.68 1166.00,530.81 1166.50,525.10 1167.00,519.58 1167.50,514.27 1168.00,509.22 1168.50,504.44 1169.00,499.95 1169.50,495.80 1170.00,491.98 1170.50,488.53 1171.00,485.47 1171.50,482.80 1172.00,480.55 1172.50,478.73 1173.00,477.34 1173.50,476.40 1174.00,475.90 1174.50,475.84 1175.00,476.05 1175.50,476.50 1176.00,477.19 1176.50,478.10 1177.00,479.25 1177.50,480.63 1178.00,482.22 1178.50,484.04 1179.00,486.07 1179.50,488.31 1180.00,490.75 1180.50,493.39 1181.00,496.21 1181.50,499.21 1182.00,502.39 1182.50,505.73 1183.00,509.22 1183.50,512.85 1184.00,516.62 1184.50,520.51 1185.00,524.52 1185.50,528.62 1186.00,532.82 1186.50,537.09 1187.00,541.43 1187.50,545.82 1188.00,550.26 1188.50,554.72 1189.00,559.20 1189.50,563.68 1190.00,568.16 1190.50,572.62 1191.00,577.04 1191.50,581.42 1192.00,585.74 1192.50,589.99 1193.00,594.16 1193.50,598.24 1194.00,602.21 1194.50,606.07 1195.00,609.80 1195.50,613.39 1196.00,616.84 1196.50,620.13 1197.00,623.26 1197.50,626.21 1198.00,628.98 1198.50,631.56 1199.00,633.94 1199.50,636.12 1200.00,638.09 1200.50,639.84 1201.00,641.37 1201.50,642.68 1202.00,643.76 1202.50,644.61 1203.00,645.23 1203.50,645.61 1204.00,645.75 1204.50,645.57 1205.00,644.95 1205.50,643.87 1206.00,642.36 1206.50,640.41 1207.00,638.03 1207.50,635.25 1208.00,632.07 1208.50,628.52 1209.00,624.60 1209.50,620.34 1210.00,615.77 1210.50,610.91 1211.00,605.78 1211.50,600.41 1212.00,594.83 1212.50,589.07 1213.00,583.15 1213.50,577.12 1214.00,571.01 1214.50,564.84 1215.00,558.64 1215.50,552.46 1216.00,546.33 1216.50,540.27 1217.00,534.31 1217.50,528.50 1218.00,522.87 1218.50,517.43 1219.00,512.22 1219.50,507.27 1220.00,502.61 1220.50,498.25 1221.00,494.23 1221.50,490.56 1222.00,487.26 1222.50,484.35 1223.00,481.85 1223.50,479.77 1224.00,478.12 1224.50,476.91 1225.00,476.15 1225.50,475.83 1226.00,475.90 1226.50,476.20 1227.00,476.75 1227.50,477.53 1228.00,478.53 1228.50,479.77 1229.00,481.24 1229.50,482.92 1230.00,484.83 1230.50,486.94 1231.00,489.26 1231.50,491.78 1232.00,494.49 1232.50,497.39 1233.00,500.46 1233.50,503.70 1234.00,507.11 1234.50,510.66 1235.00,514.35 1235.50,518.16 1236.00,522.10 1236.50,526.15 1237.00,530.29 1237.50,534.52 1238.00,538.82 1238.50,543.18 1239.00,547.59 1239.50,552.04 1240.00,556.51 1240.50,560.99 1241.00,565.48 1241.50,569.95 1242.00,574.39 1242.50,578.80 1243.00,583.15 1243.50,587.45 1244.00,591.67 1244.50,595.80 1245.00,599.84 1245.50,603.77 1246.00,607.57 1246.50,611.25 1247.00,614.79 1247.50,618.17 1248.00,621.40 1248.50,624.46 1249.00,627.34 1249.50,630.03 1250.00,632.53 1250.50,634.84 1251.00,636.93 1251.50,638.82 1252.00,640.48 1252.50,641.92 1253.00,643.14 1253.50,644.13 1254.00,644.89 1254.50,645.41 1255.00,645.69 1255.50,645.73 1256.00,645.38 1256.50,644.57 1257.00,643.32 1257.50,641.63 1258.00,639.51 1258.50,636.97 1259.00,634.03 1259.50,630.70 1260.00,626.99 1260.50,622.94 1261.00,618.55 1261.50,613.86 1262.00,608.89 1262.50,603.66 1263.00,598.20 1263.50,592.54 1264.00,586.72 1264.50,580.76 1265.00,574.69 1265.50,568.54 1266.00,562.36 1266.50,556.17 1267.00,550.00 1267.50,543.89 1268.00,537.87 1268.50,531.97 1269.00,526.23 1269.50,520.66 1270.00,515.32 1270.50,510.21 1271.00,505.37 1271.50,500.83 1272.00,496.60 1272.50,492.72 1273.00,489.19 1273.50,486.05 1274.00,483.30 1274.50,480.97 1275.00,479.06 1275.50,477.59 1276.00,476.55 1276.50,475.97 1277.00,475.83 1277.50,475.99 1278.00,476.39 1278.50,477.03 1279.00,477.90 1279.50,479.00 1280.00,480.33 1280.50,481.89 1281.00,483.66 1281.50,485.65 1282.00,487.85 1282.50,490.25 1283.00,492.84 1283.50,495.63 1284.00,498.60 1284.50,501.74 1285.00,505.05 1285.50,508.51 1286.00,512.12 1286.50,515.86 1287.00,519.73 1287.50,523.71 1288.00,527.79 1288.50,531.97 1289.00,536.23 1289.50,540.56 1290.00,544.94 1290.50,549.37 1291.00,553.82 1291.50,558.30 1292.00,562.79 1292.50,567.27 1293.00,571.73 1293.50,576.16 1294.00,580.55 1294.50,584.88 1295.00,589.15 1295.50,593.33 1296.00,597.43 1296.50,601.42 1297.00,605.30 1297.50,609.06 1298.00,612.68 1298.50,616.16 1299.00,619.49 1299.50,622.64 1300.00,625.63 1300.50,628.44 1301.00,631.06 1301.50,633.48 1302.00,635.70 1302.50,637.71 1303.00,639.51 1303.50,641.09 1304.00,642.44 1304.50,643.57 1305.00,644.46 1305.50,645.12 1306.00,645.55 1306.50,645.74 1307.00,645.65 1307.50,645.11 1308.00,644.12 1308.50,642.69 1309.00,640.83 1309.50,638.54 1310.00,635.84 1310.50,632.74 1311.00,629.26 1311.50,625.41 1312.00,621.22 1312.50,616.71 1313.00,611.90 1313.50,606.82 1314.00,601.50 1314.50,595.96 1315.00,590.23 1315.50,584.35 1316.00,578.34 1316.50,572.24 1317.00,566.07 1317.50,559.88 1318.00,553.70 1318.50,547.55 1319.00,541.47 1319.50,535.49 1320.00,529.65 1320.50,523.98 1321.00,518.50 1321.50,513.24 1322.00,508.24 1322.50,503.52 1323.00,499.10 1323.50,495.00 1324.00,491.26 1324.50,487.89 1325.00,484.90 1325.50,482.32 1326.00,480.16 1326.50,478.42 1327.00,477.12 1327.50,476.26 1328.00,475.86 1328.50,475.86 1329.00,476.12 1329.50,476.62 1330.00,477.35 1330.50,478.31 1331.00,479.51 1331.50,480.93 1332.00,482.57 1332.50,484.43 1333.00,486.50 1333.50,488.78 1334.00,491.26 1334.50,493.94 1335.00,496.80 1335.50,499.84 1336.00,503.04 1336.50,506.41 1337.00,509.93 1337.50,513.60 1338.00,517.39 1338.50,521.31 1339.00,525.33 1339.50,529.45 1340.00,533.67 1340.50,537.95 1341.00,542.30 1341.50,546.71 1342.00,551.15 1342.50,555.61 1343.00,560.10 1343.50,564.58 1344.00,569.05 1344.50,573.51 1345.00,577.92 1345.50,582.29 1346.00,586.60 1346.50,590.83 1347.00,594.98 1347.50,599.04 1348.00,602.99 1348.50,606.82 1349.00,610.53 1349.50,614.09 1350.00,617.51 1350.50,620.77 1351.00,623.86 1351.50,626.78 1352.00,629.51 1352.50,632.05 1353.00,634.39 1353.50,636.53 1354.00,638.46 1354.50,640.17 1355.00,641.65 1355.50,642.92 1356.00,643.95 1356.50,644.75 1357.00,645.32 1357.50,645.66 1358.00,645.75 1358.50,645.48 1359.00,644.77 1359.50,643.60 1360.00,642.00 1360.50,639.97 1361.00,637.51 1361.50,634.65 1362.00,631.39 1362.50,627.76 1363.00,623.78 1363.50,619.45 1364.00,614.82 1364.50,609.90 1365.00,604.72 1365.50,599.31 1366.00,593.69 1366.50,587.89 1367.00,581.96 1367.50,575.91 1368.00,569.78 1368.50,563.60 1369.00,557.41 1369.50,551.23 1370.00,545.11 1370.50,539.07 1371.00,533.14 1371.50,527.36 1372.00,521.76 1372.50,516.37 1373.00,511.21 1373.50,506.31 1374.00,501.71 1374.50,497.42 1375.00,493.46 1375.50,489.87 1376.00,486.65 1376.50,483.82 1377.00,481.40 1377.50,479.41 1378.00,477.85 1378.50,476.72 1379.00,476.05 1379.50,475.82 1380.00,475.94 1380.50,476.29 1381.00,476.88 1381.50,477.71 1382.00,478.76 1382.50,480.05 1383.00,481.56 1383.50,483.29 1384.00,485.23 1384.50,487.39 1385.00,489.75 1385.50,492.31 1386.00,495.06 1386.50,497.99 1387.00,501.10 1387.50,504.37 1388.00,507.80 1388.50,511.38 1389.00,515.10 1389.50,518.94 1390.00,522.90 1390.50,526.97 1391.00,531.13 1391.50,535.37 1392.00,539.69 1392.50,544.06 1393.00,548.48 1393.50,552.93 1394.00,557.41 1394.50,561.89 1395.00,566.37 1395.50,570.84 1396.00,575.28 1396.50,579.67 1397.00,584.02 1397.50,588.30 1398.00,592.50 1398.50,596.62 1399.00,600.63 1399.50,604.54 1400.00,608.32 1400.50,611.97 1401.00,615.48 1401.50,618.83 1402.00,622.03 1402.50,625.05 1403.00,627.89 1403.50,630.55 1404.00,633.01 1404.50,635.27 1405.00,637.33 1405.50,639.17 1406.00,640.79 1406.50,642.19 1407.00,643.36 1407.50,644.30 1408.00,645.01 1408.50,645.48 1409.00,645.72 1409.50,645.70 1410.00,645.25 1410.50,644.36 1411.00,643.01 1411.50,641.24 1412.00,639.03 1412.50,636.41 1413.00,633.39 1413.50,629.98 1414.00,626.21 1414.50,622.09 1415.00,617.64 1415.50,612.89 1416.00,607.86 1416.50,602.58 1417.00,597.08 1417.50,591.39 1418.00,585.54 1418.50,579.55 1419.00,573.46 1419.50,567.31 1420.00,561.12 1420.50,554.93 1421.00,548.77 1421.50,542.68 1422.00,536.68 1422.50,530.81 1423.00,525.10 1423.50,519.58 1424.00,514.27 1424.50,509.22 1425.00,504.44 1425.50,499.95 1426.00,495.80 1426.50,491.98 1427.00,488.53 1427.50,485.47 1428.00,482.80 1428.50,480.55 1429.00,478.73 1429.50,477.34 1430.00,476.40 1430.50,475.90 1431.00,475.84 1431.50,476.05 1432.00,476.50 1432.50,477.19 1433.00,478.10 1433.50,479.25 1434.00,480.63 1434.50,482.22 1435.00,484.04 1435.50,486.07 1436.00,488.31 1436.50,490.75 1437.00,493.39 1437.50,496.21 1438.00,499.21 1438.50,502.39 1439.00,505.73 1439.50,509.22 1440.00,512.85 1440.50,516.62 1441.00,520.51 1441.50,524.52 1442.00,528.62 1442.50,532.82 1443.00,537.09 1443.50,541.43 1444.00,545.82 1444.50,550.26 1445.00,554.72 1445.50,559.20 1446.00,563.68 1446.50,568.16 1447.00,572.62 1447.50,577.04 1448.00,581.42 1448.50,585.74 1449.00,589.99 1449.50,594.16 1450.00,598.24 1450.50,602.21 1451.00,606.07 1451.50,609.80 1452.00,613.39 1452.50,616.84 1453.00,620.13 1453.50,623.26 1454.00,626.21 1454.50,628.98 1455.00,631.56 1455.50,633.94 1456.00,636.12 1456.50,638.09 1457.00,639.84 1457.50,641.37 1458.00,642.68 1458.50,643.76 1459.00,644.61 1459.50,645.23 1460.00,645.61 1460.50,645.75 1461.00,645.57 1461.50,644.95 1462.00,643.87 1462.50,642.36 1463.00,640.41 1463.50,638.03 1464.00,635.25 1464.50,632.07 1465.00,628.52 1465.50,624.60 1466.00,620.34 1466.50,615.77 1467.00,610.91 1467.50,605.78 1468.00,600.41 1468.50,594.83 1469.00,589.07 1469.50,583.15 1470.00,577.12 1470.50,571.01 1471.00,564.84 1471.50,558.64 1472.00,552.46 1472.50,546.33 1473.00,540.27 1473.50,534.31 1474.00,528.50 1474.50,522.87 1475.00,517.43 1475.50,512.22 1476.00,507.27 1476.50,502.61 1477.00,498.25 1477.50,494.23 1478.00,490.56 1478.50,487.26 1479.00,484.35 1479.50,481.85 1480.00,479.77 1480.50,478.12 1481.00,476.91 1481.50,476.15 1482.00,475.83 1482.50,475.90 1483.00,476.20 1483.50,476.75 1484.00,477.53 1484.50,478.53 1485.00,479.77 1485.50,481.24 1486.00,482.92 1486.50,484.83 1487.00,486.94 1487.50,489.26 1488.00,491.78 1488.50,494.49 1489.00,497.39 1489.50,500.46 1490.00,503.70 1490.50,507.11 1491.00,510.66 1491.50,514.35 1492.00,518.16 1492.50,522.10 1493.00,526.15 1493.50,530.29 1494.00,534.52 1494.50,538.82 1495.00,543.18 1495.50,547.59 1496.00,552.04 1496.50,556.51 1497.00,560.99 1497.50,565.48 1498.00,569.95 1498.50,574.39 1499.00,578.80 1499.50,583.15 1500.00,587.45 1500.50,591.67 1501.00,595.80 1501.50,599.84 1502.00,603.77 1502.50,607.57 1503.00,611.25 1503.50,614.79 1504.00,618.17 1504.50,621.40 1505.00,624.46 1505.50,627.34 1506.00,630.03 1506.50,632.53 1507.00,634.84 1507.50,636.93 1508.00,638.82 1508.50,640.48 1509.00,641.92 1509.50,643.14 1510.00,644.13 1510.50,644.89 1511.00,645.41 1511.50,645.69 1512.00,645.73 1512.50,645.38 1513.00,644.57 1513.50,643.32 1514.00,641.63 1514.50,639.51 1515.00,636.97 1515.50,634.03 1516.00,630.70 1516.50,626.99 1517.00,622.94 1517.50,618.55 1518.00,613.86 1518.50,608.89 1519.00,603.66 1519.50,598.20 1520.00,592.54 1520.50,586.72 1521.00,580.76 1521.50,574.69 1522.00,568.54 1522.50,562.36 1523.00,556.17 1523.50,550.00 1524.00,543.89 1524.50,537.87 1525.00,531.97 1525.50,526.23 1526.00,520.66 1526.50,515.32 1527.00,510.21 1527.50,505.37 1528.00,500.83 1528.50,496.60 1529.00,492.72 1529.50,489.19 1530.00,486.05 1530.50,483.30 1531.00,480.97 1531.50,479.06 1532.00,477.59 1532.50,476.55 1533.00,475.97 1533.50,475.83 1534.00,475.99 1534.50,476.39 1535.00,477.03 1535.50,477.90 1536.00,479.00 1536.50,480.33 1537.00,481.89 1537.50,483.66 1538.00,485.65 1538.50,487.85 1539.00,490.25 1539.50,492.84 1540.00,495.63 1540.50,498.60 1541.00,501.74 1541.50,505.05 1542.00,508.51 1542.50,512.12 1543.00,515.86 1543.50,519.73 1544.00,523.71 1544.50,527.79 1545.00,531.97 1545.50,536.23 1546.00,540.56 1546.50,544.94 1547.00,549.37 1547.50,553.82 1548.00,558.30 1548.50,562.79 1549.00,567.27 1549.50,571.73 1550.00,576.16 1550.50,580.55 1551.00,584.88 1551.50,589.15 1552.00,593.33 1552.50,597.43 1553.00,601.42 1553.50,605.30 1554.00,609.06 1554.50,612.68 1555.00,616.16 1555.50,619.49 1556.00,622.64 1556.50,625.63 1557.00,628.44 1557.50,631.06 1558.00,633.48 1558.50,635.70 1559.00,637.71 1559.50,639.51 1560.00,641.09 1560.50,642.44 1561.00,643.57 1561.50,644.46 1562.00,645.12 1562.50,645.55 1563.00,645.74 1563.50,645.65 1564.00,645.11 1564.50,644.12 1565.00,642.69 1565.50,640.83 1566.00,638.54 1566.50,635.84 1567.00,632.74 1567.50,629.26 1568.00,625.41 1568.50,621.22 1569.00,616.71 1569.50,611.90 1570.00,606.82 1570.50,601.50 1571.00,595.96 1571.50,590.23 1572.00,584.35 1572.50,578.34 1573.00,572.24 1573.50,566.07 1574.00,559.88 1574.50,553.70 1575.00,547.55 1575.50,541.47 1576.00,535.49 1576.50,529.65 1577.00,523.98 1577.50,518.50 1578.00,513.24 1578.50,508.24 1579.00,503.52 1579.50,499.10 1580.00,495.00 1580.50,491.26 1581.00,487.89 1581.50,484.90 1582.00,482.32 1582.50,480.16 1583.00,478.42 1583.50,477.12 1584.00,476.26 1584.50,475.86 1585.00,475.86 1585.50,476.12 1586.00,476.62 1586.50,477.35 1587.00,478.31 1587.50,479.51 1588.00,480.93 1588.50,482.57 1589.00,484.43 1589.50,486.50 1590.00,488.78 1590.50,491.26 1591.00,493.94 1591.50,496.80 1592.00,499.84 1592.50,503.04 1593.00,506.41 1593.50,509.93 1594.00,513.60 1594.50,517.39 1595.00,521.31 1595.50,525.33 1596.00,529.45 1596.50,533.67 1597.00,537.95 1597.50,542.30 1598.00,546.71 1598.50,551.15 1599.00,555.61 1599.50,560.10 1600.00,564.58 1600.50,569.05 1601.00,573.51 1601.50,577.92 1602.00,582.29 1602.50,586.60 1603.00,590.83 1603.50,594.98 1604.00,599.04 1604.50,602.99 1605.00,606.82 1605.50,610.53 1606.00,614.09 1606.50,617.51 1607.00,620.77 1607.50,623.86 1608.00,626.78 1608.50,629.51 1609.00,632.05 1609.50,634.39 1610.00,636.53 1610.50,638.46 1611.00,640.17 1611.50,641.65 1612.00,642.92 1612.50,643.95 1613.00,644.75 1613.50,645.32 1614.00,645.66 1614.50,645.75"/>
</g>
<g transform="scale(1 1.2700)"><polyline fill="none" stroke="#000" stroke-width="11.3" points="771.00,107.87 700.50,634.65"/></g>
<polygon fill="#000" stroke="#000" stroke-width="2.5" stroke-linejoin="round" points="681.3,789.8 677.0,795.5 690.0,866.0 694.6,870.2 699.5,867.5 724.8,805.5 717.7,797.0 707.0,806.0 694.6,804.5 687.5,793.5"/>
<g transform="scale(1 1.2700)"><polyline fill="none" stroke="#000" stroke-width="11.3" points="1512.30,111.81 1401.00,432.28"/></g>
<polygon fill="#000" stroke="#000" stroke-width="2.5" stroke-linejoin="round" points="1384.6,525.2 1380.0,530.0 1380.0,582.0 1382.0,600.0 1387.0,606.3 1392.0,603.8 1425.7,550.8 1420.6,542.0 1408.3,548.0 1396.9,543.0 1388.7,526.4"/>
<text transform="translate(234.50 77.20) scale(0.7854 1)" font-family="'Liberation Serif','Times New Roman',serif" font-size="80.60" text-anchor="end" fill="#000">0.5</text>
<text transform="translate(234.50 251.91) scale(0.7854 1)" font-family="'Liberation Serif','Times New Roman',serif" font-size="80.60" text-anchor="end" fill="#000">0.45</text>
<text transform="translate(234.50 426.63) scale(0.7854 1)" font-family="'Liberation Serif','Times New Roman',serif" font-size="80.60" text-anchor="end" fill="#000">0.4</text>
<text transform="translate(234.50 601.34) scale(0.7854 1)" font-family="'Liberation Serif','Times New Roman',serif" font-size="80.60" text-anchor="end" fill="#000">0.35</text>
<text transform="translate(234.50 776.06) scale(0.7854 1)" font-family="'Liberation Serif','Times New Roman',serif" font-size="80.60" text-anchor="end" fill="#000">0.3</text>
<text transform="translate(234.50 950.77) scale(0.7854 1)" font-family="'Liberation Serif','Times New Roman',serif" font-size="80.60" text-anchor="end" fill="#000">0.25</text>
<text transform="translate(234.50 1125.49) scale(0.7854 1)" font-family="'Liberation Serif','Times New Roman',serif" font-size="80.60" text-anchor="end" fill="#000">0.2</text>
<text transform="translate(234.50 1300.20) scale(0.7854 1)" font-family="'Liberation Serif','Times New Roman',serif" font-size="80.60" text-anchor="end" fill="#000">0.15</text>
<text transform="translate(250.50 1362.60) scale(0.7854 1)" font-family="'Liberation Serif','Times New Roman',serif" font-size="80.60" text-anchor="middle" fill="#000">0</text>
<text transform="translate(785.17 1362.60) scale(0.7854 1)" font-family="'Liberation Serif','Times New Roman',serif" font-size="80.60" text-anchor="middle" fill="#000">50</text>
<text transform="translate(1319.83 1362.60) scale(0.7854 1)" font-family="'Liberation Serif','Times New Roman',serif" font-size="80.60" text-anchor="middle" fill="#000">100</text>
<text transform="translate(1854.50 1362.60) scale(0.7854 1)" font-family="'Liberation Serif','Times New Roman',serif" font-size="80.60" text-anchor="middle" fill="#000">150</text>
<text transform="translate(482.80 953.00) scale(0.7854 1)" font-family="'Liberation Serif','Times New Roman',serif" font-size="80.60" text-anchor="end" fill="#000">0.4762</text>
<text transform="translate(482.80 1026.50) scale(0.7854 1)" font-family="'Liberation Serif','Times New Roman',serif" font-size="80.60" text-anchor="end" fill="#000">0.4762</text>
<text transform="translate(482.80 1100.00) scale(0.7854 1)" font-family="'Liberation Serif','Times New Roman',serif" font-size="80.60" text-anchor="end" fill="#000">0.4761</text>
<text transform="translate(482.80 1174.60) scale(0.7854 1)" font-family="'Liberation Serif','Times New Roman',serif" font-size="80.60" text-anchor="end" fill="#000">0.4761</text>
<text transform="translate(519.80 1257.60) scale(0.7854 1)" font-family="'Liberation Serif','Times New Roman',serif" font-size="80.60" text-anchor="middle" fill="#000">50.49</text>
<text transform="translate(670.20 1257.60) scale(0.7854 1)" font-family="'Liberation Serif','Times New Roman',serif" font-size="80.60" text-anchor="middle" fill="#000">50.5</text>
<text transform="translate(819.90 1257.60) scale(0.7854 1)" font-family="'Liberation Serif','Times New Roman',serif" font-size="80.60" text-anchor="middle" fill="#000">50.51</text>
<text transform="translate(1025.00 652.40) scale(0.7854 1)" font-family="'Liberation Serif','Times New Roman',serif" font-size="80.60" text-anchor="end" fill="#000">0.4762</text>
<text transform="translate(1025.00 720.60) scale(0.7854 1)" font-family="'Liberation Serif','Times New Roman',serif" font-size="80.60" text-anchor="end" fill="#000">0.4762</text>
<text transform="translate(1025.00 788.40) scale(0.7854 1)" font-family="'Liberation Serif','Times New Roman',serif" font-size="80.60" text-anchor="end" fill="#000">0.4761</text>
<text transform="translate(1025.00 856.30) scale(0.7854 1)" font-family="'Liberation Serif','Times New Roman',serif" font-size="80.60" text-anchor="end" fill="#000">0.4761</text>
<text transform="translate(1072.20 933.60) scale(0.7854 1)" font-family="'Liberation Serif','Times New Roman',serif" font-size="80.60" text-anchor="middle" fill="#000">118.87</text>
<text transform="translate(1211.50 933.60) scale(0.7854 1)" font-family="'Liberation Serif','Times New Roman',serif" font-size="80.60" text-anchor="middle" fill="#000">118.88</text>
<text transform="translate(1350.90 933.60) scale(0.7854 1)" font-family="'Liberation Serif','Times New Roman',serif" font-size="80.60" text-anchor="middle" fill="#000">118.89</text>
<text transform="translate(1490.30 933.60) scale(0.7854 1)" font-family="'Liberation Serif','Times New Roman',serif" font-size="80.60" text-anchor="middle" fill="#000">118.9</text>
<text transform="translate(942.30 1414.70) scale(0.7932 1)" font-family="'Liberation Serif','Times New Roman',serif" font-size="79.80" fill="#262626">Time (s)</text>
<g transform="translate(68.9 1029.4) scale(0.8038 1) rotate(-90)"><text font-family="'Liberation Serif','Times New Roman',serif" font-size="79" fill="#262626">Power Coefficient (C</text></g>
<g transform="translate(101.1 361.2) scale(0.7476 1) rotate(-90)"><text font-family="'Liberation Serif','Times New Roman',serif" font-size="63.4" fill="#262626">p</text></g>
<g transform="translate(68.9 330.1) scale(0.8038 1) rotate(-90)"><text font-family="'Liberation Serif','Times New Roman',serif" font-size="79" fill="#262626">)</text></g>
<rect x="1406.50" y="953.20" width="407.00" height="13.40" fill="#262626"/>
<rect x="1406.50" y="1237.00" width="407.00" height="13.60" fill="#262626"/>
<rect x="1401.40" y="959.50" width="10.40" height="285.10" fill="#262626"/>
<rect x="1808.30" y="959.50" width="10.40" height="285.10" fill="#262626"/>
<rect x="1411.80" y="966.60" width="396.50" height="270.40" fill="#fff"/>
<rect x="1441.20" y="1007.10" width="177.30" height="13.80" fill="#0000ff"/>
<text transform="translate(1636.30 1035.00) scale(0.7673 1)" font-family="'Liberation Serif','Times New Roman',serif" font-size="62.30" fill="#000">RTA</text>
<rect x="1441.20" y="1095.10" width="177.30" height="13.80" fill="#00ff00"/>
<text transform="translate(1636.30 1122.80) scale(0.7673 1)" font-family="'Liberation Serif','Times New Roman',serif" font-size="62.30" fill="#000">CSMC</text>
<rect x="1441.20" y="1182.10" width="177.30" height="13.80" fill="#ff0000"/>
<text transform="translate(1636.30 1209.80) scale(0.7673 1)" font-family="'Liberation Serif','Times New Roman',serif" font-size="62.30" fill="#000">STA</text>
</svg>
</body></html>
